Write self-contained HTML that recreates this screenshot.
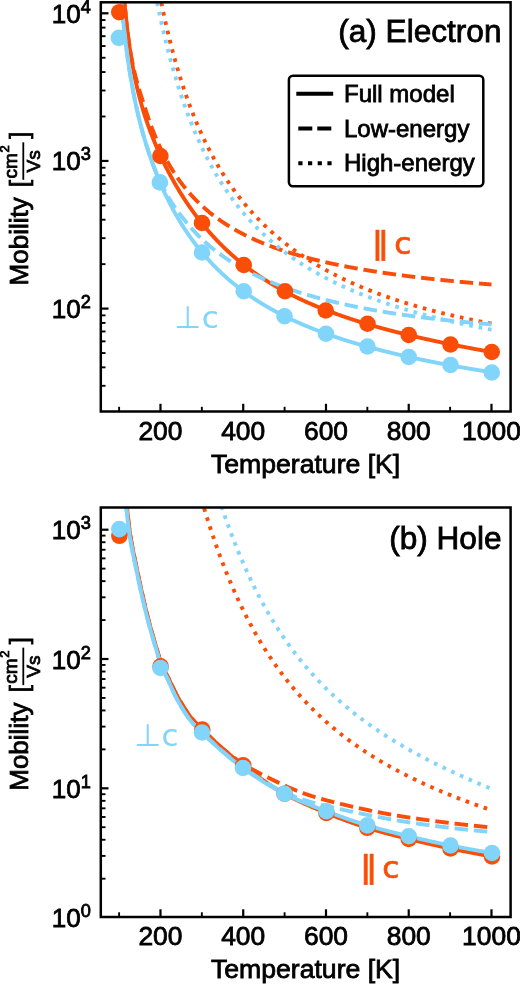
<!DOCTYPE html>
<html><head><meta charset="utf-8"><title>Mobility</title>
<style>
html,body{margin:0;padding:0;background:#fff}
svg{display:block}
text{font-family:"Liberation Sans",sans-serif;fill:#000;stroke:#000;stroke-width:0.8px}
.dj{font-family:"DejaVu Sans",sans-serif}
</style></head><body>
<svg width="520" height="985" viewBox="0 0 520 985">
<rect width="520" height="985" fill="#fff"/>
<defs>
<clipPath id="ca"><rect x="100.80" y="2.30" width="409.80" height="409.20"/></clipPath>
<clipPath id="cb"><rect x="100.80" y="507.50" width="409.80" height="409.50"/></clipPath>
</defs>
<!-- (a) -->
<g clip-path="url(#ca)" fill="none" stroke-width="3.90">
<path stroke="#FA4E08" d="M122.21 -24.45 L122.83 -16.27 L123.45 -8.60 L124.07 -1.40 L124.69 5.36 L125.32 11.73 L125.94 17.73 L126.56 23.40 L127.18 28.77 L127.80 33.85 L128.42 38.67 L129.05 43.26 L129.67 47.62 L130.29 51.78 L130.91 55.76 L131.53 59.55 L132.15 63.19 L132.78 66.68 L133.40 70.03 L134.02 73.25 L134.64 76.36 L135.26 79.35 L135.88 82.24 L136.51 85.03 L137.13 87.73 L137.75 90.35 L138.37 92.88 L138.99 95.35 L139.61 97.75 L140.24 100.08 L140.86 102.35 L141.48 104.56 L142.10 106.72 L142.72 108.83 L143.34 110.89 L143.97 112.91 L144.59 114.88 L145.21 116.81 L145.83 118.71 L146.45 120.56 L147.07 122.39 L147.70 124.18 L148.32 125.94 L148.94 127.67 L149.56 129.37 L150.18 131.04 L150.80 132.69 L151.43 134.32 L152.05 135.92 L152.67 137.49 L153.29 139.05 L153.91 140.58 L154.53 142.09 L155.16 143.59 L155.78 145.06 L156.40 146.52 L157.02 147.96 L157.64 149.38 L158.26 150.79 L158.89 152.18 L159.51 153.55 L160.13 154.91 L160.75 156.25 L161.37 157.58 L161.99 158.90 L162.62 160.20 L163.24 161.49 L163.86 162.77 L164.48 164.03 L165.10 165.28 L165.72 166.52 L166.35 167.75 L166.97 168.96 L167.59 170.17 L168.21 171.36 L168.83 172.54 L169.45 173.71 L170.08 174.87 L170.70 176.03 L171.32 177.17 L171.94 178.30 L172.56 179.42 L173.18 180.53 L173.81 181.63 L174.43 182.72 L175.05 183.81 L175.67 184.88 L176.29 185.95 L176.91 187.00 L177.54 188.05 L178.16 189.09 L178.78 190.12 L179.40 191.14 L180.02 192.16 L180.64 193.16 L181.27 194.16 L181.89 195.15 L182.51 196.13 L183.13 197.11 L183.75 198.07 L184.37 199.03 L185.00 199.98 L185.62 200.93 L186.24 201.86 L186.86 202.79 L187.48 203.72 L188.10 204.63 L188.73 205.54 L189.35 206.44 L189.97 207.33 L190.59 208.22 L191.21 209.10 L191.83 209.98 L192.46 210.85 L193.08 211.71 L193.70 212.56 L194.32 213.41 L194.94 214.25 L195.56 215.09 L196.19 215.92 L196.81 216.74 L197.43 217.56 L198.05 218.37 L198.67 219.17 L199.29 219.97 L199.92 220.77 L200.54 221.55 L201.16 222.34 L201.78 223.11 L202.40 223.88 L203.02 224.65 L203.65 225.41 L204.27 226.16 L204.89 226.91 L205.51 227.65 L206.13 228.39 L206.75 229.12 L207.38 229.85 L208.00 230.57 L208.62 231.29 L209.24 232.00 L209.86 232.71 L210.48 233.41 L211.11 234.11 L211.73 234.80 L212.35 235.49 L212.97 236.17 L213.59 236.85 L214.21 237.52 L214.84 238.19 L215.46 238.85 L216.08 239.51 L216.70 240.16 L217.32 240.81 L217.94 241.46 L218.57 242.10 L219.19 242.74 L219.81 243.37 L220.43 244.00 L221.05 244.62 L221.67 245.24 L222.30 245.85 L222.92 246.47 L223.54 247.07 L224.16 247.67 L224.78 248.27 L225.40 248.87 L226.03 249.46 L226.65 250.04 L227.27 250.63 L227.89 251.21 L228.51 251.78 L229.13 252.35 L229.76 252.92 L230.38 253.48 L231.00 254.04 L231.62 254.60 L232.24 255.15 L232.86 255.70 L233.49 256.25 L234.11 256.79 L234.73 257.33 L235.35 257.86 L235.97 258.39 L236.59 258.92 L237.22 259.44 L237.84 259.96 L238.46 260.48 L239.08 261.00 L239.70 261.51 L240.32 262.01 L240.95 262.52 L241.57 263.02 L242.19 263.52 L242.81 264.01 L243.43 264.50 L244.05 264.99 L244.68 265.48 L245.30 265.96 L245.92 266.44 L246.54 266.92 L247.16 267.39 L247.78 267.86 L248.41 268.33 L249.03 268.79 L249.65 269.26 L250.27 269.71 L250.89 270.17 L251.51 270.62 L252.14 271.08 L252.76 271.52 L253.38 271.97 L254.00 272.41 L254.62 272.85 L255.24 273.29 L255.87 273.72 L256.49 274.15 L257.11 274.58 L257.73 275.01 L258.35 275.43 L258.97 275.86 L259.60 276.28 L260.22 276.69 L260.84 277.11 L261.46 277.52 L262.08 277.93 L262.70 278.33 L263.33 278.74 L263.95 279.14 L264.57 279.54 L265.19 279.94 L265.81 280.33 L266.43 280.73 L267.06 281.12 L267.68 281.51 L268.30 281.89 L268.92 282.28 L269.54 282.66 L270.16 283.04 L270.79 283.41 L271.41 283.79 L272.03 284.16 L272.65 284.53 L273.27 284.90 L273.89 285.27 L274.52 285.64 L275.14 286.00 L275.76 286.36 L276.38 286.72 L277.00 287.07 L277.62 287.43 L278.25 287.78 L278.87 288.13 L279.49 288.48 L280.11 288.83 L280.73 289.18 L281.35 289.52 L281.98 289.86 L282.60 290.20 L283.22 290.54 L283.84 290.87 L284.46 291.21 L285.08 291.54 L285.71 291.87 L286.33 292.20 L286.95 292.53 L287.57 292.85 L288.19 293.18 L288.81 293.50 L289.44 293.82 L290.06 294.14 L290.68 294.45 L291.30 294.77 L291.92 295.08 L292.54 295.40 L293.17 295.71 L293.79 296.01 L294.41 296.32 L295.03 296.63 L295.65 296.93 L296.27 297.23 L296.90 297.54 L297.52 297.84 L298.14 298.13 L298.76 298.43 L299.38 298.73 L300.00 299.02 L300.63 299.31 L301.25 299.60 L301.87 299.89 L302.49 300.18 L303.11 300.46 L303.73 300.75 L304.36 301.03 L304.98 301.32 L305.60 301.60 L306.22 301.88 L306.84 302.15 L307.46 302.43 L308.08 302.71 L308.71 302.98 L309.33 303.25 L309.95 303.52 L310.57 303.79 L311.19 304.06 L311.81 304.33 L312.44 304.60 L313.06 304.86 L313.68 305.13 L314.30 305.39 L314.92 305.65 L315.54 305.91 L316.17 306.17 L316.79 306.43 L317.41 306.68 L318.03 306.94 L318.65 307.19 L319.27 307.45 L319.90 307.70 L320.52 307.95 L321.14 308.20 L321.76 308.45 L322.38 308.69 L323.00 308.94 L323.63 309.19 L324.25 309.43 L324.87 309.67 L325.49 309.91 L326.11 310.15 L326.73 310.39 L327.36 310.63 L327.98 310.87 L328.60 311.11 L329.22 311.34 L329.84 311.58 L330.46 311.81 L331.09 312.04 L331.71 312.28 L332.33 312.51 L332.95 312.74 L333.57 312.96 L334.19 313.19 L334.82 313.42 L335.44 313.64 L336.06 313.87 L336.68 314.09 L337.30 314.31 L337.92 314.54 L338.55 314.76 L339.17 314.98 L339.79 315.20 L340.41 315.42 L341.03 315.63 L341.65 315.85 L342.28 316.06 L342.90 316.28 L343.52 316.49 L344.14 316.71 L344.76 316.92 L345.38 317.13 L346.01 317.34 L346.63 317.55 L347.25 317.76 L347.87 317.97 L348.49 318.17 L349.11 318.38 L349.74 318.58 L350.36 318.79 L350.98 318.99 L351.60 319.20 L352.22 319.40 L352.84 319.60 L353.47 319.80 L354.09 320.00 L354.71 320.20 L355.33 320.40 L355.95 320.60 L356.57 320.79 L357.20 320.99 L357.82 321.18 L358.44 321.38 L359.06 321.57 L359.68 321.77 L360.30 321.96 L360.93 322.15 L361.55 322.34 L362.17 322.53 L362.79 322.72 L363.41 322.91 L364.03 323.10 L364.66 323.29 L365.28 323.47 L365.90 323.66 L366.52 323.84 L367.14 324.03 L367.76 324.21 L368.39 324.40 L369.01 324.58 L369.63 324.76 L370.25 324.94 L370.87 325.12 L371.49 325.30 L372.12 325.48 L372.74 325.66 L373.36 325.84 L373.98 326.02 L374.60 326.20 L375.22 326.37 L375.85 326.55 L376.47 326.72 L377.09 326.90 L377.71 327.07 L378.33 327.25 L378.95 327.42 L379.58 327.59 L380.20 327.76 L380.82 327.94 L381.44 328.11 L382.06 328.28 L382.68 328.45 L383.31 328.62 L383.93 328.78 L384.55 328.95 L385.17 329.12 L385.79 329.29 L386.41 329.45 L387.04 329.62 L387.66 329.78 L388.28 329.95 L388.90 330.11 L389.52 330.28 L390.14 330.44 L390.77 330.60 L391.39 330.76 L392.01 330.93 L392.63 331.09 L393.25 331.25 L393.87 331.41 L394.50 331.57 L395.12 331.73 L395.74 331.89 L396.36 332.04 L396.98 332.20 L397.60 332.36 L398.23 332.51 L398.85 332.67 L399.47 332.83 L400.09 332.98 L400.71 333.14 L401.33 333.29 L401.96 333.45 L402.58 333.60 L403.20 333.75 L403.82 333.90 L404.44 334.06 L405.06 334.21 L405.69 334.36 L406.31 334.51 L406.93 334.66 L407.55 334.81 L408.17 334.96 L408.79 335.11 L409.42 335.26 L410.04 335.41 L410.66 335.55 L411.28 335.70 L411.90 335.85 L412.52 335.99 L413.15 336.14 L413.77 336.29 L414.39 336.43 L415.01 336.58 L415.63 336.72 L416.25 336.87 L416.88 337.01 L417.50 337.15 L418.12 337.30 L418.74 337.44 L419.36 337.58 L419.98 337.72 L420.61 337.86 L421.23 338.01 L421.85 338.15 L422.47 338.29 L423.09 338.43 L423.71 338.57 L424.34 338.71 L424.96 338.84 L425.58 338.98 L426.20 339.12 L426.82 339.26 L427.44 339.40 L428.07 339.53 L428.69 339.67 L429.31 339.81 L429.93 339.94 L430.55 340.08 L431.17 340.21 L431.80 340.35 L432.42 340.48 L433.04 340.62 L433.66 340.75 L434.28 340.89 L434.90 341.02 L435.53 341.15 L436.15 341.29 L436.77 341.42 L437.39 341.55 L438.01 341.68 L438.63 341.81 L439.26 341.94 L439.88 342.08 L440.50 342.21 L441.12 342.34 L441.74 342.47 L442.36 342.60 L442.99 342.73 L443.61 342.85 L444.23 342.98 L444.85 343.11 L445.47 343.24 L446.09 343.37 L446.72 343.50 L447.34 343.62 L447.96 343.75 L448.58 343.88 L449.20 344.00 L449.82 344.13 L450.45 344.25 L451.07 344.38 L451.69 344.51 L452.31 344.63 L452.93 344.76 L453.55 344.88 L454.18 345.00 L454.80 345.13 L455.42 345.25 L456.04 345.38 L456.66 345.50 L457.28 345.62 L457.91 345.74 L458.53 345.87 L459.15 345.99 L459.77 346.11 L460.39 346.23 L461.01 346.35 L461.64 346.47 L462.26 346.60 L462.88 346.72 L463.50 346.84 L464.12 346.96 L464.74 347.08 L465.37 347.20 L465.99 347.32 L466.61 347.43 L467.23 347.55 L467.85 347.67 L468.47 347.79 L469.10 347.91 L469.72 348.03 L470.34 348.14 L470.96 348.26 L471.58 348.38 L472.20 348.50 L472.83 348.61 L473.45 348.73 L474.07 348.85 L474.69 348.96 L475.31 349.08 L475.93 349.19 L476.56 349.31 L477.18 349.42 L477.80 349.54 L478.42 349.65 L479.04 349.77 L479.66 349.88 L480.29 350.00 L480.91 350.11 L481.53 350.23 L482.15 350.34 L482.77 350.45 L483.39 350.57 L484.02 350.68 L484.64 350.79 L485.26 350.90 L485.88 351.02 L486.50 351.13 L487.12 351.24 L487.75 351.35 L488.37 351.46 L488.99 351.58 L489.61 351.69 L490.23 351.80 L490.85 351.91 L491.48 352.02"/>
<path stroke="#FA4E08" d="M122.21 -24.45 L122.83 -16.27 L123.45 -8.60 L124.07 -1.40 L124.69 5.36 L125.32 11.73 L125.94 17.74 L126.56 23.42 L127.18 28.77 L127.80 33.81 L128.42 38.54 L129.05 42.98 L129.67 47.14 L130.29 51.06 L130.91 54.74 L131.53 58.20 L132.15 61.47 L132.78 64.55 L133.40 67.48 L134.02 70.26 L134.64 72.91 L135.26 75.45 L135.88 77.88 L136.51 80.23 L137.13 82.50 L137.75 84.70 L138.37 86.84 L138.99 88.94 L139.61 90.99 L140.24 93.02 L140.86 95.01 L141.48 96.98 L142.10 98.94 L142.72 100.88 L143.34 102.82 L143.97 104.75 L144.59 106.68 L145.21 108.61 L145.83 110.54 L146.45 112.48 L147.07 114.37 L147.70 116.23 L148.32 118.06 L148.94 119.86 L149.56 121.62 L150.18 123.35 L150.80 125.06 L151.43 126.73 L152.05 128.37 L152.67 129.99 L153.29 131.58 L153.91 133.14 L154.53 134.68 L155.16 136.19 L155.78 137.67 L156.40 139.14 L157.02 140.57 L157.64 141.99 L158.26 143.38 L158.89 144.75 L159.51 146.10 L160.13 147.43 L160.75 148.74 L161.37 150.03 L161.99 151.30 L162.62 152.55 L163.24 153.78 L163.86 155.00 L164.48 156.19 L165.10 157.37 L165.72 158.53 L166.35 159.68 L166.97 160.81 L167.59 161.92 L168.21 163.02 L168.83 164.10 L169.45 165.16 L170.08 166.22 L170.70 167.25 L171.32 168.28 L171.94 169.29 L172.56 170.28 L173.18 171.27 L173.81 172.24 L174.43 173.19 L175.05 174.14 L175.67 175.07 L176.29 175.99 L176.91 176.90 L177.54 177.80 L178.16 178.68 L178.78 179.56 L179.40 180.42 L180.02 181.28 L180.64 182.12 L181.27 182.95 L181.89 183.77 L182.51 184.59 L183.13 185.39 L183.75 186.18 L184.37 186.97 L185.00 187.74 L185.62 188.50 L186.24 189.26 L186.86 190.01 L187.48 190.75 L188.10 191.48 L188.73 192.20 L189.35 192.91 L189.97 193.62 L190.59 194.32 L191.21 195.01 L191.83 195.69 L192.46 196.37 L193.08 197.03 L193.70 197.69 L194.32 198.35 L194.94 198.99 L195.56 199.63 L196.19 200.26 L196.81 200.89 L197.43 201.51 L198.05 202.12 L198.67 202.73 L199.29 203.33 L199.92 203.92 L200.54 204.51 L201.16 205.09 L201.78 205.66 L202.40 206.23 L203.02 206.80 L203.65 207.36 L204.27 207.91 L204.89 208.46 L205.51 209.00 L206.13 209.53 L206.75 210.07 L207.38 210.59 L208.00 211.11 L208.62 211.63 L209.24 212.14 L209.86 212.65 L210.48 213.15 L211.11 213.64 L211.73 214.14 L212.35 214.62 L212.97 215.11 L213.59 215.58 L214.21 216.06 L214.84 216.53 L215.46 216.99 L216.08 217.45 L216.70 217.91 L217.32 218.36 L217.94 218.81 L218.57 219.25 L219.19 219.70 L219.81 220.13 L220.43 220.56 L221.05 220.99 L221.67 221.42 L222.30 221.84 L222.92 222.26 L223.54 222.67 L224.16 223.08 L224.78 223.49 L225.40 223.89 L226.03 224.29 L226.65 224.69 L227.27 225.08 L227.89 225.47 L228.51 225.86 L229.13 226.24 L229.76 226.62 L230.38 227.00 L231.00 227.38 L231.62 227.75 L232.24 228.11 L232.86 228.48 L233.49 228.84 L234.11 229.20 L234.73 229.56 L235.35 229.91 L235.97 230.26 L236.59 230.61 L237.22 230.95 L237.84 231.30 L238.46 231.64 L239.08 231.97 L239.70 232.31 L240.32 232.64 L240.95 232.97 L241.57 233.30 L242.19 233.62 L242.81 233.94 L243.43 234.26 L244.05 234.58 L244.68 234.89 L245.30 235.20 L245.92 235.51 L246.54 235.82 L247.16 236.13 L247.78 236.43 L248.41 236.73 L249.03 237.03 L249.65 237.33 L250.27 237.62 L250.89 237.91 L251.51 238.20 L252.14 238.49 L252.76 238.78 L253.38 239.06 L254.00 239.34 L254.62 239.62 L255.24 239.90 L255.87 240.17 L256.49 240.45 L257.11 240.72 L257.73 240.99 L258.35 241.26 L258.97 241.52 L259.60 241.79 L260.22 242.05 L260.84 242.31 L261.46 242.57 L262.08 242.83 L262.70 243.08 L263.33 243.34 L263.95 243.59 L264.57 243.84 L265.19 244.09 L265.81 244.33 L266.43 244.58 L267.06 244.82 L267.68 245.06 L268.30 245.30 L268.92 245.54 L269.54 245.78 L270.16 246.02 L270.79 246.25 L271.41 246.48 L272.03 246.71 L272.65 246.94 L273.27 247.17 L273.89 247.40 L274.52 247.62 L275.14 247.85 L275.76 248.07 L276.38 248.29 L277.00 248.51 L277.62 248.73 L278.25 248.94 L278.87 249.16 L279.49 249.37 L280.11 249.59 L280.73 249.80 L281.35 250.01 L281.98 250.22 L282.60 250.42 L283.22 250.63 L283.84 250.84 L284.46 251.04 L285.08 251.24 L285.71 251.44 L286.33 251.64 L286.95 251.84 L287.57 252.04 L288.19 252.24 L288.81 252.43 L289.44 252.62 L290.06 252.82 L290.68 253.01 L291.30 253.20 L291.92 253.39 L292.54 253.58 L293.17 253.77 L293.79 253.95 L294.41 254.14 L295.03 254.32 L295.65 254.50 L296.27 254.69 L296.90 254.87 L297.52 255.05 L298.14 255.23 L298.76 255.40 L299.38 255.58 L300.00 255.76 L300.63 255.93 L301.25 256.11 L301.87 256.28 L302.49 256.45 L303.11 256.62 L303.73 256.79 L304.36 256.96 L304.98 257.13 L305.60 257.30 L306.22 257.46 L306.84 257.63 L307.46 257.79 L308.08 257.95 L308.71 258.12 L309.33 258.28 L309.95 258.44 L310.57 258.60 L311.19 258.76 L311.81 258.92 L312.44 259.07 L313.06 259.23 L313.68 259.39 L314.30 259.54 L314.92 259.70 L315.54 259.85 L316.17 260.00 L316.79 260.15 L317.41 260.30 L318.03 260.45 L318.65 260.60 L319.27 260.75 L319.90 260.90 L320.52 261.05 L321.14 261.19 L321.76 261.34 L322.38 261.48 L323.00 261.63 L323.63 261.77 L324.25 261.91 L324.87 262.05 L325.49 262.20 L326.11 262.34 L326.73 262.48 L327.36 262.61 L327.98 262.75 L328.60 262.89 L329.22 263.03 L329.84 263.16 L330.46 263.30 L331.09 263.43 L331.71 263.57 L332.33 263.70 L332.95 263.83 L333.57 263.97 L334.19 264.10 L334.82 264.23 L335.44 264.36 L336.06 264.49 L336.68 264.62 L337.30 264.74 L337.92 264.87 L338.55 265.00 L339.17 265.13 L339.79 265.25 L340.41 265.38 L341.03 265.50 L341.65 265.63 L342.28 265.75 L342.90 265.87 L343.52 265.99 L344.14 266.12 L344.76 266.24 L345.38 266.36 L346.01 266.48 L346.63 266.60 L347.25 266.72 L347.87 266.83 L348.49 266.95 L349.11 267.07 L349.74 267.19 L350.36 267.30 L350.98 267.42 L351.60 267.53 L352.22 267.65 L352.84 267.76 L353.47 267.87 L354.09 267.99 L354.71 268.10 L355.33 268.21 L355.95 268.32 L356.57 268.43 L357.20 268.54 L357.82 268.65 L358.44 268.76 L359.06 268.87 L359.68 268.98 L360.30 269.09 L360.93 269.20 L361.55 269.30 L362.17 269.41 L362.79 269.52 L363.41 269.62 L364.03 269.73 L364.66 269.83 L365.28 269.93 L365.90 270.04 L366.52 270.14 L367.14 270.24 L367.76 270.35 L368.39 270.45 L369.01 270.55 L369.63 270.65 L370.25 270.75 L370.87 270.85 L371.49 270.95 L372.12 271.05 L372.74 271.15 L373.36 271.25 L373.98 271.35 L374.60 271.44 L375.22 271.54 L375.85 271.64 L376.47 271.73 L377.09 271.83 L377.71 271.93 L378.33 272.02 L378.95 272.12 L379.58 272.21 L380.20 272.30 L380.82 272.40 L381.44 272.49 L382.06 272.58 L382.68 272.68 L383.31 272.77 L383.93 272.86 L384.55 272.95 L385.17 273.04 L385.79 273.13 L386.41 273.22 L387.04 273.31 L387.66 273.40 L388.28 273.49 L388.90 273.58 L389.52 273.67 L390.14 273.76 L390.77 273.84 L391.39 273.93 L392.01 274.02 L392.63 274.10 L393.25 274.19 L393.87 274.28 L394.50 274.36 L395.12 274.45 L395.74 274.53 L396.36 274.62 L396.98 274.70 L397.60 274.78 L398.23 274.87 L398.85 274.95 L399.47 275.03 L400.09 275.12 L400.71 275.20 L401.33 275.28 L401.96 275.36 L402.58 275.44 L403.20 275.52 L403.82 275.60 L404.44 275.68 L405.06 275.76 L405.69 275.84 L406.31 275.92 L406.93 276.00 L407.55 276.08 L408.17 276.16 L408.79 276.24 L409.42 276.32 L410.04 276.39 L410.66 276.47 L411.28 276.55 L411.90 276.62 L412.52 276.70 L413.15 276.78 L413.77 276.85 L414.39 276.93 L415.01 277.00 L415.63 277.08 L416.25 277.15 L416.88 277.23 L417.50 277.30 L418.12 277.38 L418.74 277.45 L419.36 277.52 L419.98 277.60 L420.61 277.67 L421.23 277.74 L421.85 277.81 L422.47 277.88 L423.09 277.96 L423.71 278.03 L424.34 278.10 L424.96 278.17 L425.58 278.24 L426.20 278.31 L426.82 278.38 L427.44 278.45 L428.07 278.52 L428.69 278.59 L429.31 278.66 L429.93 278.73 L430.55 278.80 L431.17 278.86 L431.80 278.93 L432.42 279.00 L433.04 279.07 L433.66 279.14 L434.28 279.20 L434.90 279.27 L435.53 279.34 L436.15 279.40 L436.77 279.47 L437.39 279.54 L438.01 279.60 L438.63 279.67 L439.26 279.73 L439.88 279.80 L440.50 279.86 L441.12 279.93 L441.74 279.99 L442.36 280.05 L442.99 280.12 L443.61 280.18 L444.23 280.25 L444.85 280.31 L445.47 280.37 L446.09 280.44 L446.72 280.50 L447.34 280.56 L447.96 280.62 L448.58 280.68 L449.20 280.75 L449.82 280.81 L450.45 280.87 L451.07 280.93 L451.69 280.99 L452.31 281.05 L452.93 281.11 L453.55 281.17 L454.18 281.23 L454.80 281.29 L455.42 281.35 L456.04 281.41 L456.66 281.47 L457.28 281.53 L457.91 281.59 L458.53 281.65 L459.15 281.71 L459.77 281.76 L460.39 281.82 L461.01 281.88 L461.64 281.94 L462.26 282.00 L462.88 282.05 L463.50 282.11 L464.12 282.17 L464.74 282.22 L465.37 282.28 L465.99 282.34 L466.61 282.39 L467.23 282.45 L467.85 282.51 L468.47 282.56 L469.10 282.62 L469.72 282.67 L470.34 282.73 L470.96 282.78 L471.58 282.84 L472.20 282.89 L472.83 282.95 L473.45 283.00 L474.07 283.05 L474.69 283.11 L475.31 283.16 L475.93 283.22 L476.56 283.27 L477.18 283.32 L477.80 283.37 L478.42 283.43 L479.04 283.48 L479.66 283.53 L480.29 283.59 L480.91 283.64 L481.53 283.69 L482.15 283.74 L482.77 283.79 L483.39 283.84 L484.02 283.90 L484.64 283.95 L485.26 284.00 L485.88 284.05 L486.50 284.10 L487.12 284.15 L487.75 284.20 L488.37 284.25 L488.99 284.30 L489.61 284.35 L490.23 284.40 L490.85 284.45 L491.48 284.50" stroke-dasharray="13.5 5.9" stroke-dashoffset="1.33"/>
<path stroke="#FA4E08" d="M156.00 -25.28 L156.70 -21.35 L157.41 -17.48 L158.11 -13.69 L158.82 -9.97 L159.52 -6.32 L160.23 -2.73 L160.93 0.79 L161.64 4.25 L162.34 7.65 L163.05 10.98 L163.75 14.27 L164.45 17.49 L165.16 20.66 L165.86 23.78 L166.57 26.84 L167.27 29.86 L167.98 32.82 L168.68 35.74 L169.39 38.61 L170.09 41.44 L170.80 44.22 L171.50 46.95 L172.21 49.65 L172.91 52.30 L173.62 54.91 L174.32 57.49 L175.03 60.02 L175.73 62.52 L176.44 64.98 L177.14 67.40 L177.85 69.79 L178.55 72.15 L179.26 74.47 L179.96 76.75 L180.67 79.01 L181.37 81.23 L182.07 83.43 L182.78 85.59 L183.48 87.72 L184.19 89.83 L184.89 91.91 L185.60 93.95 L186.30 95.98 L187.01 97.97 L187.71 99.94 L188.42 101.88 L189.12 103.80 L189.83 105.70 L190.53 107.57 L191.24 109.41 L191.94 111.24 L192.65 113.04 L193.35 114.81 L194.06 116.57 L194.76 118.31 L195.47 120.02 L196.17 121.71 L196.88 123.39 L197.58 125.04 L198.28 126.67 L198.99 128.29 L199.69 129.89 L200.40 131.46 L201.10 133.02 L201.81 134.56 L202.51 136.09 L203.22 137.59 L203.92 139.08 L204.63 140.56 L205.33 142.02 L206.04 143.46 L206.74 144.88 L207.45 146.29 L208.15 147.69 L208.86 149.07 L209.56 150.43 L210.27 151.78 L210.97 153.12 L211.68 154.44 L212.38 155.75 L213.09 157.04 L213.79 158.32 L214.49 159.59 L215.20 160.84 L215.90 162.09 L216.61 163.32 L217.31 164.53 L218.02 165.74 L218.72 166.93 L219.43 168.11 L220.13 169.28 L220.84 170.44 L221.54 171.59 L222.25 172.72 L222.95 173.85 L223.66 174.96 L224.36 176.07 L225.07 177.16 L225.77 178.24 L226.48 179.31 L227.18 180.38 L227.89 181.43 L228.59 182.47 L229.30 183.50 L230.00 184.53 L230.70 185.54 L231.41 186.55 L232.11 187.54 L232.82 188.53 L233.52 189.51 L234.23 190.48 L234.93 191.44 L235.64 192.39 L236.34 193.34 L237.05 194.27 L237.75 195.20 L238.46 196.12 L239.16 197.03 L239.87 197.94 L240.57 198.83 L241.28 199.72 L241.98 200.60 L242.69 201.47 L243.39 202.34 L244.10 203.20 L244.80 204.05 L245.51 204.90 L246.21 205.73 L246.91 206.56 L247.62 207.39 L248.32 208.21 L249.03 209.02 L249.73 209.82 L250.44 210.62 L251.14 211.41 L251.85 212.19 L252.55 212.97 L253.26 213.75 L253.96 214.51 L254.67 215.27 L255.37 216.03 L256.08 216.77 L256.78 217.52 L257.49 218.25 L258.19 218.99 L258.90 219.71 L259.60 220.43 L260.31 221.15 L261.01 221.86 L261.72 222.56 L262.42 223.26 L263.12 223.95 L263.83 224.64 L264.53 225.32 L265.24 226.00 L265.94 226.67 L266.65 227.34 L267.35 228.00 L268.06 228.66 L268.76 229.32 L269.47 229.96 L270.17 230.61 L270.88 231.25 L271.58 231.88 L272.29 232.51 L272.99 233.14 L273.70 233.76 L274.40 234.38 L275.11 234.99 L275.81 235.60 L276.52 236.20 L277.22 236.80 L277.93 237.40 L278.63 237.99 L279.33 238.57 L280.04 239.16 L280.74 239.74 L281.45 240.31 L282.15 240.88 L282.86 241.45 L283.56 242.01 L284.27 242.57 L284.97 243.13 L285.68 243.68 L286.38 244.23 L287.09 244.78 L287.79 245.32 L288.50 245.85 L289.20 246.39 L289.91 246.92 L290.61 247.45 L291.32 247.97 L292.02 248.49 L292.73 249.01 L293.43 249.52 L294.14 250.03 L294.84 250.54 L295.54 251.04 L296.25 251.54 L296.95 252.04 L297.66 252.53 L298.36 253.02 L299.07 253.51 L299.77 254.00 L300.48 254.48 L301.18 254.96 L301.89 255.43 L302.59 255.91 L303.30 256.38 L304.00 256.84 L304.71 257.31 L305.41 257.77 L306.12 258.23 L306.82 258.68 L307.53 259.13 L308.23 259.58 L308.94 260.03 L309.64 260.48 L310.35 260.92 L311.05 261.36 L311.75 261.79 L312.46 262.23 L313.16 262.66 L313.87 263.09 L314.57 263.51 L315.28 263.94 L315.98 264.36 L316.69 264.78 L317.39 265.19 L318.10 265.61 L318.80 266.02 L319.51 266.43 L320.21 266.83 L320.92 267.24 L321.62 267.64 L322.33 268.04 L323.03 268.44 L323.74 268.83 L324.44 269.22 L325.15 269.61 L325.85 270.00 L326.56 270.39 L327.26 270.77 L327.96 271.15 L328.67 271.53 L329.37 271.91 L330.08 272.28 L330.78 272.66 L331.49 273.03 L332.19 273.40 L332.90 273.76 L333.60 274.13 L334.31 274.49 L335.01 274.85 L335.72 275.21 L336.42 275.57 L337.13 275.92 L337.83 276.28 L338.54 276.63 L339.24 276.98 L339.95 277.32 L340.65 277.67 L341.36 278.01 L342.06 278.35 L342.77 278.69 L343.47 279.03 L344.18 279.37 L344.88 279.70 L345.58 280.03 L346.29 280.36 L346.99 280.69 L347.70 281.02 L348.40 281.35 L349.11 281.67 L349.81 281.99 L350.52 282.31 L351.22 282.63 L351.93 282.95 L352.63 283.26 L353.34 283.58 L354.04 283.89 L354.75 284.20 L355.45 284.51 L356.16 284.81 L356.86 285.12 L357.57 285.42 L358.27 285.73 L358.98 286.03 L359.68 286.33 L360.39 286.62 L361.09 286.92 L361.79 287.22 L362.50 287.51 L363.20 287.80 L363.91 288.09 L364.61 288.38 L365.32 288.67 L366.02 288.95 L366.73 289.24 L367.43 289.52 L368.14 289.80 L368.84 290.08 L369.55 290.36 L370.25 290.64 L370.96 290.92 L371.66 291.19 L372.37 291.46 L373.07 291.74 L373.78 292.01 L374.48 292.28 L375.19 292.54 L375.89 292.81 L376.60 293.08 L377.30 293.34 L378.00 293.60 L378.71 293.87 L379.41 294.13 L380.12 294.38 L380.82 294.64 L381.53 294.90 L382.23 295.15 L382.94 295.41 L383.64 295.66 L384.35 295.91 L385.05 296.16 L385.76 296.41 L386.46 296.66 L387.17 296.91 L387.87 297.15 L388.58 297.40 L389.28 297.64 L389.99 297.88 L390.69 298.13 L391.40 298.37 L392.10 298.60 L392.81 298.84 L393.51 299.08 L394.21 299.31 L394.92 299.55 L395.62 299.78 L396.33 300.01 L397.03 300.25 L397.74 300.48 L398.44 300.70 L399.15 300.93 L399.85 301.16 L400.56 301.39 L401.26 301.61 L401.97 301.83 L402.67 302.06 L403.38 302.28 L404.08 302.50 L404.79 302.72 L405.49 302.94 L406.20 303.16 L406.90 303.37 L407.61 303.59 L408.31 303.80 L409.02 304.02 L409.72 304.23 L410.42 304.44 L411.13 304.65 L411.83 304.86 L412.54 305.07 L413.24 305.28 L413.95 305.49 L414.65 305.69 L415.36 305.90 L416.06 306.10 L416.77 306.31 L417.47 306.51 L418.18 306.71 L418.88 306.91 L419.59 307.11 L420.29 307.31 L421.00 307.51 L421.70 307.71 L422.41 307.90 L423.11 308.10 L423.82 308.29 L424.52 308.49 L425.23 308.68 L425.93 308.87 L426.63 309.07 L427.34 309.26 L428.04 309.45 L428.75 309.63 L429.45 309.82 L430.16 310.01 L430.86 310.20 L431.57 310.38 L432.27 310.57 L432.98 310.75 L433.68 310.93 L434.39 311.12 L435.09 311.30 L435.80 311.48 L436.50 311.66 L437.21 311.84 L437.91 312.02 L438.62 312.20 L439.32 312.37 L440.03 312.55 L440.73 312.72 L441.44 312.90 L442.14 313.07 L442.84 313.25 L443.55 313.42 L444.25 313.59 L444.96 313.76 L445.66 313.93 L446.37 314.10 L447.07 314.27 L447.78 314.44 L448.48 314.61 L449.19 314.77 L449.89 314.94 L450.60 315.11 L451.30 315.27 L452.01 315.44 L452.71 315.60 L453.42 315.76 L454.12 315.92 L454.83 316.09 L455.53 316.25 L456.24 316.41 L456.94 316.57 L457.65 316.73 L458.35 316.88 L459.05 317.04 L459.76 317.20 L460.46 317.35 L461.17 317.51 L461.87 317.66 L462.58 317.82 L463.28 317.97 L463.99 318.13 L464.69 318.28 L465.40 318.43 L466.10 318.58 L466.81 318.73 L467.51 318.88 L468.22 319.03 L468.92 319.18 L469.63 319.33 L470.33 319.48 L471.04 319.62 L471.74 319.77 L472.45 319.92 L473.15 320.06 L473.86 320.21 L474.56 320.35 L475.26 320.49 L475.97 320.64 L476.67 320.78 L477.38 320.92 L478.08 321.06 L478.79 321.20 L479.49 321.34 L480.20 321.48 L480.90 321.62 L481.61 321.76 L482.31 321.90 L483.02 322.03 L483.72 322.17 L484.43 322.31 L485.13 322.44 L485.84 322.58 L486.54 322.71 L487.25 322.85 L487.95 322.98 L488.66 323.11 L489.36 323.25 L490.07 323.38 L490.77 323.51 L491.48 323.64" stroke-dasharray="3.65 5.9" stroke-dashoffset="0.23"/>
<path stroke="#81D4FA" d="M119.10 -25.09 L119.72 -16.94 L120.34 -9.23 L120.96 -1.92 L121.59 5.01 L122.21 11.59 L122.83 17.85 L123.45 23.82 L124.07 29.52 L124.69 34.96 L125.32 40.17 L125.94 45.16 L126.56 49.95 L127.18 54.55 L127.80 58.98 L128.42 63.24 L129.05 67.34 L129.67 71.31 L130.29 75.14 L130.91 78.84 L131.53 82.42 L132.15 85.89 L132.78 89.26 L133.40 92.53 L134.02 95.70 L134.64 98.79 L135.26 101.79 L135.88 104.71 L136.51 107.56 L137.13 110.34 L137.75 113.05 L138.37 115.69 L138.99 118.28 L139.61 120.80 L140.24 123.27 L140.86 125.69 L141.48 128.05 L142.10 130.37 L142.72 132.64 L143.34 134.86 L143.97 137.05 L144.59 139.19 L145.21 141.29 L145.83 143.35 L146.45 145.38 L147.07 147.37 L147.70 149.33 L148.32 151.25 L148.94 153.15 L149.56 155.01 L150.18 156.84 L150.80 158.64 L151.43 160.42 L152.05 162.17 L152.67 163.89 L153.29 165.59 L153.91 167.26 L154.53 168.91 L155.16 170.54 L155.78 172.14 L156.40 173.72 L157.02 175.28 L157.64 176.82 L158.26 178.34 L158.89 179.84 L159.51 181.32 L160.13 182.78 L160.75 184.22 L161.37 185.65 L161.99 187.05 L162.62 188.44 L163.24 189.82 L163.86 191.17 L164.48 192.51 L165.10 193.84 L165.72 195.15 L166.35 196.44 L166.97 197.72 L167.59 198.99 L168.21 200.24 L168.83 201.47 L169.45 202.70 L170.08 203.91 L170.70 205.10 L171.32 206.29 L171.94 207.46 L172.56 208.62 L173.18 209.76 L173.81 210.90 L174.43 212.02 L175.05 213.13 L175.67 214.23 L176.29 215.32 L176.91 216.40 L177.54 217.47 L178.16 218.52 L178.78 219.57 L179.40 220.60 L180.02 221.63 L180.64 222.64 L181.27 223.65 L181.89 224.65 L182.51 225.63 L183.13 226.61 L183.75 227.58 L184.37 228.54 L185.00 229.48 L185.62 230.43 L186.24 231.36 L186.86 232.28 L187.48 233.20 L188.10 234.10 L188.73 235.00 L189.35 235.89 L189.97 236.77 L190.59 237.65 L191.21 238.51 L191.83 239.37 L192.46 240.23 L193.08 241.07 L193.70 241.91 L194.32 242.73 L194.94 243.56 L195.56 244.37 L196.19 245.18 L196.81 245.98 L197.43 246.78 L198.05 247.56 L198.67 248.34 L199.29 249.12 L199.92 249.89 L200.54 250.65 L201.16 251.40 L201.78 252.15 L202.40 252.89 L203.02 253.63 L203.65 254.36 L204.27 255.09 L204.89 255.80 L205.51 256.52 L206.13 257.23 L206.75 257.93 L207.38 258.62 L208.00 259.31 L208.62 260.00 L209.24 260.68 L209.86 261.35 L210.48 262.02 L211.11 262.69 L211.73 263.34 L212.35 264.00 L212.97 264.65 L213.59 265.29 L214.21 265.93 L214.84 266.56 L215.46 267.19 L216.08 267.82 L216.70 268.44 L217.32 269.05 L217.94 269.66 L218.57 270.27 L219.19 270.87 L219.81 271.47 L220.43 272.06 L221.05 272.65 L221.67 273.23 L222.30 273.81 L222.92 274.38 L223.54 274.96 L224.16 275.52 L224.78 276.09 L225.40 276.64 L226.03 277.20 L226.65 277.75 L227.27 278.30 L227.89 278.84 L228.51 279.38 L229.13 279.92 L229.76 280.45 L230.38 280.98 L231.00 281.50 L231.62 282.02 L232.24 282.54 L232.86 283.05 L233.49 283.56 L234.11 284.07 L234.73 284.57 L235.35 285.07 L235.97 285.57 L236.59 286.06 L237.22 286.55 L237.84 287.04 L238.46 287.52 L239.08 288.00 L239.70 288.48 L240.32 288.95 L240.95 289.42 L241.57 289.89 L242.19 290.35 L242.81 290.81 L243.43 291.27 L244.05 291.73 L244.68 292.18 L245.30 292.63 L245.92 293.08 L246.54 293.52 L247.16 293.96 L247.78 294.40 L248.41 294.83 L249.03 295.27 L249.65 295.70 L250.27 296.12 L250.89 296.55 L251.51 296.97 L252.14 297.39 L252.76 297.80 L253.38 298.22 L254.00 298.63 L254.62 299.04 L255.24 299.44 L255.87 299.85 L256.49 300.25 L257.11 300.65 L257.73 301.05 L258.35 301.44 L258.97 301.83 L259.60 302.22 L260.22 302.61 L260.84 302.99 L261.46 303.38 L262.08 303.76 L262.70 304.13 L263.33 304.51 L263.95 304.88 L264.57 305.25 L265.19 305.62 L265.81 305.99 L266.43 306.35 L267.06 306.72 L267.68 307.08 L268.30 307.44 L268.92 307.79 L269.54 308.15 L270.16 308.50 L270.79 308.85 L271.41 309.20 L272.03 309.55 L272.65 309.89 L273.27 310.23 L273.89 310.57 L274.52 310.91 L275.14 311.25 L275.76 311.58 L276.38 311.92 L277.00 312.25 L277.62 312.58 L278.25 312.91 L278.87 313.23 L279.49 313.56 L280.11 313.88 L280.73 314.20 L281.35 314.52 L281.98 314.84 L282.60 315.15 L283.22 315.46 L283.84 315.78 L284.46 316.09 L285.08 316.40 L285.71 316.70 L286.33 317.01 L286.95 317.31 L287.57 317.62 L288.19 317.92 L288.81 318.22 L289.44 318.51 L290.06 318.81 L290.68 319.10 L291.30 319.40 L291.92 319.69 L292.54 319.98 L293.17 320.27 L293.79 320.55 L294.41 320.84 L295.03 321.12 L295.65 321.41 L296.27 321.69 L296.90 321.97 L297.52 322.25 L298.14 322.52 L298.76 322.80 L299.38 323.07 L300.00 323.35 L300.63 323.62 L301.25 323.89 L301.87 324.16 L302.49 324.43 L303.11 324.69 L303.73 324.96 L304.36 325.22 L304.98 325.48 L305.60 325.74 L306.22 326.00 L306.84 326.26 L307.46 326.52 L308.08 326.78 L308.71 327.03 L309.33 327.29 L309.95 327.54 L310.57 327.79 L311.19 328.04 L311.81 328.29 L312.44 328.54 L313.06 328.78 L313.68 329.03 L314.30 329.27 L314.92 329.52 L315.54 329.76 L316.17 330.00 L316.79 330.24 L317.41 330.48 L318.03 330.72 L318.65 330.95 L319.27 331.19 L319.90 331.43 L320.52 331.66 L321.14 331.89 L321.76 332.12 L322.38 332.35 L323.00 332.58 L323.63 332.81 L324.25 333.04 L324.87 333.26 L325.49 333.49 L326.11 333.71 L326.73 333.94 L327.36 334.16 L327.98 334.38 L328.60 334.60 L329.22 334.82 L329.84 335.04 L330.46 335.26 L331.09 335.47 L331.71 335.69 L332.33 335.91 L332.95 336.12 L333.57 336.33 L334.19 336.54 L334.82 336.76 L335.44 336.97 L336.06 337.18 L336.68 337.38 L337.30 337.59 L337.92 337.80 L338.55 338.01 L339.17 338.21 L339.79 338.41 L340.41 338.62 L341.03 338.82 L341.65 339.02 L342.28 339.22 L342.90 339.42 L343.52 339.62 L344.14 339.82 L344.76 340.02 L345.38 340.22 L346.01 340.41 L346.63 340.61 L347.25 340.80 L347.87 341.00 L348.49 341.19 L349.11 341.38 L349.74 341.57 L350.36 341.76 L350.98 341.95 L351.60 342.14 L352.22 342.33 L352.84 342.52 L353.47 342.71 L354.09 342.89 L354.71 343.08 L355.33 343.26 L355.95 343.45 L356.57 343.63 L357.20 343.81 L357.82 344.00 L358.44 344.18 L359.06 344.36 L359.68 344.54 L360.30 344.72 L360.93 344.90 L361.55 345.07 L362.17 345.25 L362.79 345.43 L363.41 345.60 L364.03 345.78 L364.66 345.95 L365.28 346.13 L365.90 346.30 L366.52 346.48 L367.14 346.65 L367.76 346.82 L368.39 346.99 L369.01 347.16 L369.63 347.33 L370.25 347.50 L370.87 347.67 L371.49 347.84 L372.12 348.00 L372.74 348.17 L373.36 348.34 L373.98 348.50 L374.60 348.67 L375.22 348.83 L375.85 348.99 L376.47 349.16 L377.09 349.32 L377.71 349.48 L378.33 349.64 L378.95 349.80 L379.58 349.96 L380.20 350.12 L380.82 350.28 L381.44 350.44 L382.06 350.60 L382.68 350.76 L383.31 350.92 L383.93 351.07 L384.55 351.23 L385.17 351.38 L385.79 351.54 L386.41 351.69 L387.04 351.85 L387.66 352.00 L388.28 352.15 L388.90 352.31 L389.52 352.46 L390.14 352.61 L390.77 352.76 L391.39 352.91 L392.01 353.06 L392.63 353.21 L393.25 353.36 L393.87 353.51 L394.50 353.66 L395.12 353.80 L395.74 353.95 L396.36 354.10 L396.98 354.24 L397.60 354.39 L398.23 354.53 L398.85 354.68 L399.47 354.82 L400.09 354.97 L400.71 355.11 L401.33 355.25 L401.96 355.39 L402.58 355.54 L403.20 355.68 L403.82 355.82 L404.44 355.96 L405.06 356.10 L405.69 356.24 L406.31 356.38 L406.93 356.52 L407.55 356.66 L408.17 356.79 L408.79 356.93 L409.42 357.07 L410.04 357.21 L410.66 357.34 L411.28 357.48 L411.90 357.61 L412.52 357.75 L413.15 357.88 L413.77 358.02 L414.39 358.15 L415.01 358.29 L415.63 358.42 L416.25 358.55 L416.88 358.68 L417.50 358.82 L418.12 358.95 L418.74 359.08 L419.36 359.21 L419.98 359.34 L420.61 359.47 L421.23 359.60 L421.85 359.73 L422.47 359.86 L423.09 359.99 L423.71 360.12 L424.34 360.24 L424.96 360.37 L425.58 360.50 L426.20 360.63 L426.82 360.75 L427.44 360.88 L428.07 361.00 L428.69 361.13 L429.31 361.25 L429.93 361.38 L430.55 361.50 L431.17 361.63 L431.80 361.75 L432.42 361.87 L433.04 362.00 L433.66 362.12 L434.28 362.24 L434.90 362.36 L435.53 362.49 L436.15 362.61 L436.77 362.73 L437.39 362.85 L438.01 362.97 L438.63 363.09 L439.26 363.21 L439.88 363.33 L440.50 363.45 L441.12 363.57 L441.74 363.68 L442.36 363.80 L442.99 363.92 L443.61 364.04 L444.23 364.16 L444.85 364.27 L445.47 364.39 L446.09 364.51 L446.72 364.62 L447.34 364.74 L447.96 364.85 L448.58 364.97 L449.20 365.08 L449.82 365.20 L450.45 365.31 L451.07 365.43 L451.69 365.54 L452.31 365.65 L452.93 365.77 L453.55 365.88 L454.18 365.99 L454.80 366.10 L455.42 366.21 L456.04 366.33 L456.66 366.44 L457.28 366.55 L457.91 366.66 L458.53 366.77 L459.15 366.88 L459.77 366.99 L460.39 367.10 L461.01 367.21 L461.64 367.32 L462.26 367.43 L462.88 367.54 L463.50 367.65 L464.12 367.75 L464.74 367.86 L465.37 367.97 L465.99 368.08 L466.61 368.18 L467.23 368.29 L467.85 368.40 L468.47 368.50 L469.10 368.61 L469.72 368.72 L470.34 368.82 L470.96 368.93 L471.58 369.03 L472.20 369.14 L472.83 369.24 L473.45 369.35 L474.07 369.45 L474.69 369.55 L475.31 369.66 L475.93 369.76 L476.56 369.86 L477.18 369.97 L477.80 370.07 L478.42 370.17 L479.04 370.28 L479.66 370.38 L480.29 370.48 L480.91 370.58 L481.53 370.68 L482.15 370.78 L482.77 370.88 L483.39 370.99 L484.02 371.09 L484.64 371.19 L485.26 371.29 L485.88 371.39 L486.50 371.49 L487.12 371.59 L487.75 371.68 L488.37 371.78 L488.99 371.88 L489.61 371.98 L490.23 372.08 L490.85 372.18 L491.48 372.28"/>
<path stroke="#81D4FA" d="M119.10 -25.09 L119.72 -16.94 L120.34 -9.23 L120.96 -1.92 L121.59 5.01 L122.21 11.59 L122.83 17.85 L123.45 23.82 L124.07 29.52 L124.69 34.96 L125.32 40.17 L125.94 45.16 L126.56 49.95 L127.18 54.55 L127.80 58.98 L128.42 63.24 L129.05 67.34 L129.67 71.31 L130.29 75.14 L130.91 78.84 L131.53 82.42 L132.15 85.89 L132.78 89.26 L133.40 92.53 L134.02 95.70 L134.64 98.79 L135.26 101.79 L135.88 104.71 L136.51 107.56 L137.13 110.34 L137.75 113.04 L138.37 115.68 L138.99 118.26 L139.61 120.78 L140.24 123.24 L140.86 125.65 L141.48 128.01 L142.10 130.32 L142.72 132.58 L143.34 134.79 L143.97 136.96 L144.59 139.09 L145.21 141.18 L145.83 143.22 L146.45 145.23 L147.07 147.21 L147.70 149.14 L148.32 151.04 L148.94 152.91 L149.56 154.74 L150.18 156.54 L150.80 158.31 L151.43 160.05 L152.05 161.75 L152.67 163.43 L153.29 165.07 L153.91 166.69 L154.53 168.28 L155.16 169.84 L155.78 171.38 L156.40 172.88 L157.02 174.36 L157.64 175.82 L158.26 177.25 L158.89 178.65 L159.51 180.03 L160.13 181.38 L160.75 182.71 L161.37 184.01 L161.99 185.29 L162.62 186.55 L163.24 187.79 L163.86 189.00 L164.48 190.19 L165.10 191.36 L165.72 192.51 L166.35 193.64 L166.97 194.75 L167.59 195.84 L168.21 196.91 L168.83 197.96 L169.45 199.00 L170.08 200.01 L170.70 201.01 L171.32 201.99 L171.94 202.96 L172.56 203.91 L173.18 204.84 L173.81 205.76 L174.43 206.67 L175.05 207.57 L175.67 208.45 L176.29 209.32 L176.91 210.18 L177.54 211.02 L178.16 211.86 L178.78 212.69 L179.40 213.51 L180.02 214.32 L180.64 215.13 L181.27 215.93 L181.89 216.72 L182.51 217.51 L183.13 218.30 L183.75 219.08 L184.37 219.86 L185.00 220.63 L185.62 221.41 L186.24 222.18 L186.86 222.94 L187.48 223.69 L188.10 224.43 L188.73 225.16 L189.35 225.89 L189.97 226.61 L190.59 227.32 L191.21 228.02 L191.83 228.72 L192.46 229.41 L193.08 230.09 L193.70 230.76 L194.32 231.43 L194.94 232.09 L195.56 232.74 L196.19 233.39 L196.81 234.03 L197.43 234.67 L198.05 235.29 L198.67 235.92 L199.29 236.53 L199.92 237.14 L200.54 237.75 L201.16 238.34 L201.78 238.94 L202.40 239.52 L203.02 240.10 L203.65 240.68 L204.27 241.25 L204.89 241.81 L205.51 242.37 L206.13 242.93 L206.75 243.48 L207.38 244.02 L208.00 244.56 L208.62 245.10 L209.24 245.63 L209.86 246.15 L210.48 246.67 L211.11 247.19 L211.73 247.70 L212.35 248.21 L212.97 248.71 L213.59 249.21 L214.21 249.70 L214.84 250.19 L215.46 250.68 L216.08 251.16 L216.70 251.64 L217.32 252.11 L217.94 252.58 L218.57 253.04 L219.19 253.51 L219.81 253.96 L220.43 254.42 L221.05 254.87 L221.67 255.32 L222.30 255.76 L222.92 256.20 L223.54 256.63 L224.16 257.07 L224.78 257.50 L225.40 257.92 L226.03 258.35 L226.65 258.76 L227.27 259.18 L227.89 259.59 L228.51 260.00 L229.13 260.41 L229.76 260.81 L230.38 261.21 L231.00 261.61 L231.62 262.00 L232.24 262.40 L232.86 262.78 L233.49 263.17 L234.11 263.55 L234.73 263.93 L235.35 264.31 L235.97 264.68 L236.59 265.05 L237.22 265.42 L237.84 265.79 L238.46 266.15 L239.08 266.51 L239.70 266.87 L240.32 267.23 L240.95 267.58 L241.57 267.93 L242.19 268.28 L242.81 268.63 L243.43 268.97 L244.05 269.31 L244.68 269.65 L245.30 269.98 L245.92 270.32 L246.54 270.65 L247.16 270.98 L247.78 271.31 L248.41 271.63 L249.03 271.95 L249.65 272.27 L250.27 272.59 L250.89 272.91 L251.51 273.22 L252.14 273.53 L252.76 273.84 L253.38 274.15 L254.00 274.46 L254.62 274.76 L255.24 275.06 L255.87 275.36 L256.49 275.66 L257.11 275.96 L257.73 276.25 L258.35 276.54 L258.97 276.83 L259.60 277.12 L260.22 277.41 L260.84 277.69 L261.46 277.98 L262.08 278.26 L262.70 278.54 L263.33 278.82 L263.95 279.09 L264.57 279.37 L265.19 279.64 L265.81 279.91 L266.43 280.18 L267.06 280.45 L267.68 280.71 L268.30 280.98 L268.92 281.24 L269.54 281.50 L270.16 281.76 L270.79 282.02 L271.41 282.27 L272.03 282.53 L272.65 282.78 L273.27 283.03 L273.89 283.28 L274.52 283.53 L275.14 283.78 L275.76 284.02 L276.38 284.27 L277.00 284.51 L277.62 284.75 L278.25 284.99 L278.87 285.23 L279.49 285.47 L280.11 285.70 L280.73 285.94 L281.35 286.17 L281.98 286.40 L282.60 286.63 L283.22 286.86 L283.84 287.09 L284.46 287.31 L285.08 287.54 L285.71 287.76 L286.33 287.99 L286.95 288.21 L287.57 288.43 L288.19 288.65 L288.81 288.86 L289.44 289.08 L290.06 289.30 L290.68 289.51 L291.30 289.72 L291.92 289.93 L292.54 290.14 L293.17 290.35 L293.79 290.56 L294.41 290.77 L295.03 290.97 L295.65 291.18 L296.27 291.38 L296.90 291.58 L297.52 291.79 L298.14 291.99 L298.76 292.19 L299.38 292.38 L300.00 292.58 L300.63 292.78 L301.25 292.97 L301.87 293.16 L302.49 293.36 L303.11 293.55 L303.73 293.74 L304.36 293.93 L304.98 294.12 L305.60 294.31 L306.22 294.49 L306.84 294.68 L307.46 294.86 L308.08 295.05 L308.71 295.23 L309.33 295.41 L309.95 295.59 L310.57 295.77 L311.19 295.95 L311.81 296.13 L312.44 296.31 L313.06 296.48 L313.68 296.66 L314.30 296.83 L314.92 297.01 L315.54 297.18 L316.17 297.35 L316.79 297.52 L317.41 297.69 L318.03 297.86 L318.65 298.03 L319.27 298.20 L319.90 298.36 L320.52 298.53 L321.14 298.69 L321.76 298.86 L322.38 299.02 L323.00 299.18 L323.63 299.35 L324.25 299.51 L324.87 299.67 L325.49 299.83 L326.11 299.98 L326.73 300.14 L327.36 300.30 L327.98 300.45 L328.60 300.61 L329.22 300.76 L329.84 300.92 L330.46 301.07 L331.09 301.22 L331.71 301.38 L332.33 301.53 L332.95 301.68 L333.57 301.83 L334.19 301.97 L334.82 302.12 L335.44 302.27 L336.06 302.42 L336.68 302.56 L337.30 302.71 L337.92 302.85 L338.55 302.99 L339.17 303.14 L339.79 303.28 L340.41 303.42 L341.03 303.56 L341.65 303.70 L342.28 303.84 L342.90 303.98 L343.52 304.12 L344.14 304.26 L344.76 304.39 L345.38 304.53 L346.01 304.66 L346.63 304.80 L347.25 304.93 L347.87 305.07 L348.49 305.20 L349.11 305.33 L349.74 305.46 L350.36 305.60 L350.98 305.73 L351.60 305.86 L352.22 305.99 L352.84 306.11 L353.47 306.24 L354.09 306.37 L354.71 306.50 L355.33 306.62 L355.95 306.75 L356.57 306.87 L357.20 307.00 L357.82 307.12 L358.44 307.25 L359.06 307.37 L359.68 307.49 L360.30 307.61 L360.93 307.73 L361.55 307.86 L362.17 307.98 L362.79 308.10 L363.41 308.21 L364.03 308.33 L364.66 308.45 L365.28 308.57 L365.90 308.69 L366.52 308.80 L367.14 308.92 L367.76 309.03 L368.39 309.15 L369.01 309.26 L369.63 309.38 L370.25 309.49 L370.87 309.60 L371.49 309.71 L372.12 309.82 L372.74 309.94 L373.36 310.05 L373.98 310.16 L374.60 310.27 L375.22 310.38 L375.85 310.48 L376.47 310.59 L377.09 310.70 L377.71 310.81 L378.33 310.91 L378.95 311.02 L379.58 311.13 L380.20 311.23 L380.82 311.34 L381.44 311.44 L382.06 311.55 L382.68 311.65 L383.31 311.75 L383.93 311.85 L384.55 311.96 L385.17 312.06 L385.79 312.16 L386.41 312.26 L387.04 312.36 L387.66 312.46 L388.28 312.56 L388.90 312.66 L389.52 312.76 L390.14 312.86 L390.77 312.95 L391.39 313.05 L392.01 313.15 L392.63 313.24 L393.25 313.34 L393.87 313.44 L394.50 313.53 L395.12 313.63 L395.74 313.72 L396.36 313.82 L396.98 313.91 L397.60 314.00 L398.23 314.09 L398.85 314.19 L399.47 314.28 L400.09 314.37 L400.71 314.46 L401.33 314.55 L401.96 314.64 L402.58 314.73 L403.20 314.82 L403.82 314.91 L404.44 315.00 L405.06 315.09 L405.69 315.18 L406.31 315.27 L406.93 315.35 L407.55 315.44 L408.17 315.53 L408.79 315.61 L409.42 315.70 L410.04 315.78 L410.66 315.87 L411.28 315.95 L411.90 316.04 L412.52 316.12 L413.15 316.21 L413.77 316.29 L414.39 316.37 L415.01 316.46 L415.63 316.54 L416.25 316.62 L416.88 316.70 L417.50 316.78 L418.12 316.86 L418.74 316.94 L419.36 317.02 L419.98 317.10 L420.61 317.18 L421.23 317.26 L421.85 317.34 L422.47 317.42 L423.09 317.50 L423.71 317.58 L424.34 317.65 L424.96 317.73 L425.58 317.81 L426.20 317.88 L426.82 317.96 L427.44 318.04 L428.07 318.11 L428.69 318.19 L429.31 318.26 L429.93 318.34 L430.55 318.41 L431.17 318.49 L431.80 318.56 L432.42 318.63 L433.04 318.71 L433.66 318.78 L434.28 318.85 L434.90 318.92 L435.53 319.00 L436.15 319.07 L436.77 319.14 L437.39 319.21 L438.01 319.28 L438.63 319.35 L439.26 319.42 L439.88 319.49 L440.50 319.56 L441.12 319.63 L441.74 319.70 L442.36 319.77 L442.99 319.84 L443.61 319.90 L444.23 319.97 L444.85 320.04 L445.47 320.11 L446.09 320.17 L446.72 320.24 L447.34 320.31 L447.96 320.37 L448.58 320.44 L449.20 320.50 L449.82 320.57 L450.45 320.63 L451.07 320.70 L451.69 320.76 L452.31 320.83 L452.93 320.89 L453.55 320.96 L454.18 321.02 L454.80 321.08 L455.42 321.15 L456.04 321.21 L456.66 321.27 L457.28 321.33 L457.91 321.39 L458.53 321.46 L459.15 321.52 L459.77 321.58 L460.39 321.64 L461.01 321.70 L461.64 321.76 L462.26 321.82 L462.88 321.88 L463.50 321.94 L464.12 322.00 L464.74 322.06 L465.37 322.12 L465.99 322.18 L466.61 322.24 L467.23 322.29 L467.85 322.35 L468.47 322.41 L469.10 322.47 L469.72 322.52 L470.34 322.58 L470.96 322.64 L471.58 322.69 L472.20 322.75 L472.83 322.81 L473.45 322.86 L474.07 322.92 L474.69 322.97 L475.31 323.03 L475.93 323.08 L476.56 323.14 L477.18 323.19 L477.80 323.25 L478.42 323.30 L479.04 323.36 L479.66 323.41 L480.29 323.46 L480.91 323.52 L481.53 323.57 L482.15 323.62 L482.77 323.67 L483.39 323.73 L484.02 323.78 L484.64 323.83 L485.26 323.88 L485.88 323.93 L486.50 323.98 L487.12 324.04 L487.75 324.09 L488.37 324.14 L488.99 324.19 L489.61 324.24 L490.23 324.29 L490.85 324.34 L491.48 324.39" stroke-dasharray="13.5 5.9" stroke-dashoffset="4.11"/>
<path stroke="#81D4FA" d="M151.77 -25.98 L152.47 -22.01 L153.18 -18.12 L153.88 -14.29 L154.59 -10.53 L155.29 -6.83 L156.00 -3.19 L156.70 0.38 L157.41 3.89 L158.11 7.35 L158.82 10.75 L159.52 14.09 L160.23 17.38 L160.93 20.62 L161.64 23.81 L162.34 26.94 L163.05 30.03 L163.75 33.07 L164.45 36.06 L165.16 39.00 L165.86 41.90 L166.57 44.76 L167.27 47.57 L167.98 50.34 L168.68 53.07 L169.39 55.76 L170.09 58.41 L170.80 61.03 L171.50 63.60 L172.21 66.14 L172.91 68.64 L173.62 71.10 L174.32 73.53 L175.03 75.93 L175.73 78.30 L176.44 80.63 L177.14 82.93 L177.85 85.19 L178.55 87.43 L179.26 89.64 L179.96 91.82 L180.67 93.97 L181.37 96.09 L182.07 98.18 L182.78 100.24 L183.48 102.28 L184.19 104.30 L184.89 106.28 L185.60 108.24 L186.30 110.18 L187.01 112.09 L187.71 113.98 L188.42 115.85 L189.12 117.69 L189.83 119.51 L190.53 121.31 L191.24 123.08 L191.94 124.84 L192.65 126.57 L193.35 128.28 L194.06 129.97 L194.76 131.65 L195.47 133.30 L196.17 134.93 L196.88 136.54 L197.58 138.14 L198.28 139.72 L198.99 141.28 L199.69 142.82 L200.40 144.34 L201.10 145.85 L201.81 147.34 L202.51 148.81 L203.22 150.27 L203.92 151.71 L204.63 153.14 L205.33 154.55 L206.04 155.94 L206.74 157.32 L207.45 158.69 L208.15 160.04 L208.86 161.37 L209.56 162.69 L210.27 164.00 L210.97 165.30 L211.68 166.58 L212.38 167.84 L213.09 169.10 L213.79 170.34 L214.49 171.57 L215.20 172.79 L215.90 173.99 L216.61 175.18 L217.31 176.36 L218.02 177.53 L218.72 178.69 L219.43 179.83 L220.13 180.97 L220.84 182.09 L221.54 183.20 L222.25 184.30 L222.95 185.39 L223.66 186.47 L224.36 187.54 L225.07 188.60 L225.77 189.65 L226.48 190.69 L227.18 191.72 L227.89 192.74 L228.59 193.75 L229.30 194.75 L230.00 195.75 L230.70 196.73 L231.41 197.70 L232.11 198.67 L232.82 199.62 L233.52 200.57 L234.23 201.51 L234.93 202.44 L235.64 203.36 L236.34 204.28 L237.05 205.19 L237.75 206.08 L238.46 206.97 L239.16 207.86 L239.87 208.73 L240.57 209.60 L241.28 210.46 L241.98 211.31 L242.69 212.16 L243.39 212.99 L244.10 213.83 L244.80 214.65 L245.51 215.47 L246.21 216.28 L246.91 217.08 L247.62 217.88 L248.32 218.67 L249.03 219.45 L249.73 220.23 L250.44 221.00 L251.14 221.76 L251.85 222.52 L252.55 223.27 L253.26 224.02 L253.96 224.76 L254.67 225.49 L255.37 226.22 L256.08 226.94 L256.78 227.66 L257.49 228.37 L258.19 229.08 L258.90 229.78 L259.60 230.47 L260.31 231.16 L261.01 231.85 L261.72 232.52 L262.42 233.20 L263.12 233.87 L263.83 234.53 L264.53 235.19 L265.24 235.84 L265.94 236.49 L266.65 237.13 L267.35 237.77 L268.06 238.40 L268.76 239.03 L269.47 239.66 L270.17 240.28 L270.88 240.89 L271.58 241.50 L272.29 242.11 L272.99 242.71 L273.70 243.31 L274.40 243.90 L275.11 244.49 L275.81 245.07 L276.52 245.65 L277.22 246.23 L277.93 246.80 L278.63 247.37 L279.33 247.94 L280.04 248.50 L280.74 249.05 L281.45 249.60 L282.15 250.15 L282.86 250.70 L283.56 251.24 L284.27 251.78 L284.97 252.31 L285.68 252.84 L286.38 253.37 L287.09 253.89 L287.79 254.41 L288.50 254.92 L289.20 255.44 L289.91 255.94 L290.61 256.45 L291.32 256.95 L292.02 257.45 L292.73 257.95 L293.43 258.44 L294.14 258.93 L294.84 259.41 L295.54 259.89 L296.25 260.37 L296.95 260.85 L297.66 261.32 L298.36 261.79 L299.07 262.26 L299.77 262.72 L300.48 263.18 L301.18 263.64 L301.89 264.10 L302.59 264.55 L303.30 265.00 L304.00 265.45 L304.71 265.89 L305.41 266.33 L306.12 266.77 L306.82 267.20 L307.53 267.64 L308.23 268.07 L308.94 268.49 L309.64 268.92 L310.35 269.34 L311.05 269.76 L311.75 270.18 L312.46 270.59 L313.16 271.00 L313.87 271.41 L314.57 271.82 L315.28 272.23 L315.98 272.63 L316.69 273.03 L317.39 273.42 L318.10 273.82 L318.80 274.21 L319.51 274.60 L320.21 274.99 L320.92 275.38 L321.62 275.76 L322.33 276.14 L323.03 276.52 L323.74 276.90 L324.44 277.27 L325.15 277.64 L325.85 278.01 L326.56 278.38 L327.26 278.75 L327.96 279.11 L328.67 279.47 L329.37 279.83 L330.08 280.19 L330.78 280.55 L331.49 280.90 L332.19 281.25 L332.90 281.60 L333.60 281.95 L334.31 282.30 L335.01 282.64 L335.72 282.98 L336.42 283.32 L337.13 283.66 L337.83 284.00 L338.54 284.33 L339.24 284.67 L339.95 285.00 L340.65 285.33 L341.36 285.65 L342.06 285.98 L342.77 286.30 L343.47 286.63 L344.18 286.95 L344.88 287.26 L345.58 287.58 L346.29 287.90 L346.99 288.21 L347.70 288.52 L348.40 288.83 L349.11 289.14 L349.81 289.45 L350.52 289.75 L351.22 290.06 L351.93 290.36 L352.63 290.66 L353.34 290.96 L354.04 291.26 L354.75 291.55 L355.45 291.85 L356.16 292.14 L356.86 292.43 L357.57 292.72 L358.27 293.01 L358.98 293.30 L359.68 293.58 L360.39 293.87 L361.09 294.15 L361.79 294.43 L362.50 294.71 L363.20 294.99 L363.91 295.27 L364.61 295.54 L365.32 295.82 L366.02 296.09 L366.73 296.36 L367.43 296.63 L368.14 296.90 L368.84 297.17 L369.55 297.44 L370.25 297.70 L370.96 297.96 L371.66 298.23 L372.37 298.49 L373.07 298.75 L373.78 299.01 L374.48 299.26 L375.19 299.52 L375.89 299.77 L376.60 300.03 L377.30 300.28 L378.00 300.53 L378.71 300.78 L379.41 301.03 L380.12 301.28 L380.82 301.53 L381.53 301.77 L382.23 302.02 L382.94 302.26 L383.64 302.50 L384.35 302.74 L385.05 302.98 L385.76 303.22 L386.46 303.46 L387.17 303.69 L387.87 303.93 L388.58 304.16 L389.28 304.40 L389.99 304.63 L390.69 304.86 L391.40 305.09 L392.10 305.32 L392.81 305.55 L393.51 305.77 L394.21 306.00 L394.92 306.22 L395.62 306.45 L396.33 306.67 L397.03 306.89 L397.74 307.11 L398.44 307.33 L399.15 307.55 L399.85 307.77 L400.56 307.99 L401.26 308.20 L401.97 308.42 L402.67 308.63 L403.38 308.84 L404.08 309.06 L404.79 309.27 L405.49 309.48 L406.20 309.69 L406.90 309.90 L407.61 310.10 L408.31 310.31 L409.02 310.52 L409.72 310.72 L410.42 310.93 L411.13 311.13 L411.83 311.33 L412.54 311.53 L413.24 311.73 L413.95 311.93 L414.65 312.13 L415.36 312.33 L416.06 312.53 L416.77 312.72 L417.47 312.92 L418.18 313.11 L418.88 313.31 L419.59 313.50 L420.29 313.69 L421.00 313.88 L421.70 314.08 L422.41 314.27 L423.11 314.45 L423.82 314.64 L424.52 314.83 L425.23 315.02 L425.93 315.20 L426.63 315.39 L427.34 315.57 L428.04 315.76 L428.75 315.94 L429.45 316.12 L430.16 316.30 L430.86 316.48 L431.57 316.67 L432.27 316.84 L432.98 317.02 L433.68 317.20 L434.39 317.38 L435.09 317.55 L435.80 317.73 L436.50 317.91 L437.21 318.08 L437.91 318.25 L438.62 318.43 L439.32 318.60 L440.03 318.77 L440.73 318.94 L441.44 319.11 L442.14 319.28 L442.84 319.45 L443.55 319.62 L444.25 319.79 L444.96 319.95 L445.66 320.12 L446.37 320.29 L447.07 320.45 L447.78 320.62 L448.48 320.78 L449.19 320.94 L449.89 321.11 L450.60 321.27 L451.30 321.43 L452.01 321.59 L452.71 321.75 L453.42 321.91 L454.12 322.07 L454.83 322.23 L455.53 322.38 L456.24 322.54 L456.94 322.70 L457.65 322.85 L458.35 323.01 L459.05 323.16 L459.76 323.32 L460.46 323.47 L461.17 323.63 L461.87 323.78 L462.58 323.93 L463.28 324.08 L463.99 324.23 L464.69 324.38 L465.40 324.53 L466.10 324.68 L466.81 324.83 L467.51 324.98 L468.22 325.13 L468.92 325.27 L469.63 325.42 L470.33 325.57 L471.04 325.71 L471.74 325.86 L472.45 326.00 L473.15 326.14 L473.86 326.29 L474.56 326.43 L475.26 326.57 L475.97 326.72 L476.67 326.86 L477.38 327.00 L478.08 327.14 L478.79 327.28 L479.49 327.42 L480.20 327.56 L480.90 327.69 L481.61 327.83 L482.31 327.97 L483.02 328.11 L483.72 328.24 L484.43 328.38 L485.13 328.51 L485.84 328.65 L486.54 328.78 L487.25 328.92 L487.95 329.05 L488.66 329.18 L489.36 329.32 L490.07 329.45 L490.77 329.58 L491.48 329.71" stroke-dasharray="3.65 5.9" stroke-dashoffset="9.26"/>
<g fill="#FA4E08" stroke="none">
<circle cx="119.30" cy="12.20" r="8.30"/>
<circle cx="160.40" cy="156.00" r="8.30"/>
<circle cx="202.00" cy="223.00" r="8.30"/>
<circle cx="243.75" cy="265.00" r="8.30"/>
<circle cx="285.00" cy="291.25" r="8.30"/>
<circle cx="325.75" cy="310.50" r="8.30"/>
<circle cx="367.50" cy="323.75" r="8.30"/>
<circle cx="408.75" cy="335.00" r="8.30"/>
<circle cx="450.50" cy="344.50" r="8.30"/>
<circle cx="491.75" cy="352.00" r="8.30"/>
</g>
<g fill="#81D4FA" stroke="none">
<circle cx="118.90" cy="37.80" r="8.30"/>
<circle cx="159.90" cy="182.40" r="8.30"/>
<circle cx="202.00" cy="252.50" r="8.30"/>
<circle cx="243.75" cy="291.25" r="8.30"/>
<circle cx="284.50" cy="316.25" r="8.30"/>
<circle cx="326.00" cy="333.75" r="8.30"/>
<circle cx="367.50" cy="346.50" r="8.30"/>
<circle cx="408.75" cy="357.00" r="8.30"/>
<circle cx="450.50" cy="365.00" r="8.30"/>
<circle cx="491.75" cy="372.50" r="8.30"/>
</g>
</g>
<g stroke="#000" fill="none">
<path d="M119.10 411.50 v-4.7" stroke-width="1.9"/>
<path d="M160.47 411.50 v-7.7" stroke-width="2.2"/>
<path d="M201.85 411.50 v-4.7" stroke-width="1.9"/>
<path d="M243.22 411.50 v-7.7" stroke-width="2.2"/>
<path d="M284.60 411.50 v-4.7" stroke-width="1.9"/>
<path d="M325.98 411.50 v-7.7" stroke-width="2.2"/>
<path d="M367.35 411.50 v-4.7" stroke-width="1.9"/>
<path d="M408.73 411.50 v-7.7" stroke-width="2.2"/>
<path d="M450.10 411.50 v-4.7" stroke-width="1.9"/>
<path d="M491.48 411.50 v-7.7" stroke-width="2.2"/>
<path d="M100.80 385.80 h4.7" stroke-width="1.9"/>
<path d="M100.80 367.36 h4.7" stroke-width="1.9"/>
<path d="M100.80 353.05 h4.7" stroke-width="1.9"/>
<path d="M100.80 341.36 h4.7" stroke-width="1.9"/>
<path d="M100.80 331.47 h4.7" stroke-width="1.9"/>
<path d="M100.80 322.91 h4.7" stroke-width="1.9"/>
<path d="M100.80 315.36 h4.7" stroke-width="1.9"/>
<path d="M100.80 308.60 h7.7" stroke-width="2.2"/>
<path d="M100.80 264.15 h4.7" stroke-width="1.9"/>
<path d="M100.80 238.15 h4.7" stroke-width="1.9"/>
<path d="M100.80 219.71 h4.7" stroke-width="1.9"/>
<path d="M100.80 205.40 h4.7" stroke-width="1.9"/>
<path d="M100.80 193.71 h4.7" stroke-width="1.9"/>
<path d="M100.80 183.82 h4.7" stroke-width="1.9"/>
<path d="M100.80 175.26 h4.7" stroke-width="1.9"/>
<path d="M100.80 167.71 h4.7" stroke-width="1.9"/>
<path d="M100.80 160.95 h7.7" stroke-width="2.2"/>
<path d="M100.80 116.50 h4.7" stroke-width="1.9"/>
<path d="M100.80 90.50 h4.7" stroke-width="1.9"/>
<path d="M100.80 72.06 h4.7" stroke-width="1.9"/>
<path d="M100.80 57.75 h4.7" stroke-width="1.9"/>
<path d="M100.80 46.06 h4.7" stroke-width="1.9"/>
<path d="M100.80 36.17 h4.7" stroke-width="1.9"/>
<path d="M100.80 27.61 h4.7" stroke-width="1.9"/>
<path d="M100.80 20.06 h4.7" stroke-width="1.9"/>
<path d="M100.80 13.30 h7.7" stroke-width="2.2"/>
<rect x="100.80" y="2.30" width="409.80" height="409.20" stroke-width="2.50"/>
</g>
<g font-size="26.4">
<text x="160.47" y="439.70" text-anchor="middle">200</text>
<text x="243.22" y="439.70" text-anchor="middle">400</text>
<text x="325.98" y="439.70" text-anchor="middle">600</text>
<text x="408.73" y="439.70" text-anchor="middle">800</text>
<text x="491.48" y="439.70" text-anchor="middle">1000</text>
<text x="80.6" y="318.10" text-anchor="end" font-size="26">10</text>
<text x="80.8" y="308.10" font-size="18.2">2</text>
<text x="80.6" y="170.45" text-anchor="end" font-size="26">10</text>
<text x="80.8" y="160.45" font-size="18.2">3</text>
<text x="80.6" y="22.80" text-anchor="end" font-size="26">10</text>
<text x="80.8" y="12.80" font-size="18.2">4</text>
<text x="305.6" y="472.80" text-anchor="middle" font-size="26.6">Temperature [K]</text>
</g>
<g transform="translate(28 285.40) rotate(-90)">
<text x="0" y="0" font-size="26">Mobility</text><text x="98.2" y="0" font-size="26">[</text>
<text x="107" y="-10.7" font-size="19">cm</text>
<text x="133" y="-18.8" font-size="13">2</text>
<rect x="105.6" y="-5.6" width="37.5" height="1.8" fill="#000"/>
<text x="113" y="11.8" font-size="19">Vs</text>
<text x="146.6" y="0" font-size="26">]</text>
</g>
<text x="501.5" y="42.3" font-size="31.6" text-anchor="end">(a) Electron</text>
<rect x="288.9" y="75.8" width="194.4" height="110.4" rx="4" ry="4" fill="#fff" stroke="#000" stroke-width="2.5"/>
<g stroke="#000" stroke-width="4" fill="none">
<path d="M296.3 93.8H333.2"/>
<path d="M298.3 128.5H333.2" stroke-dasharray="14 5"/>
<path d="M298.3 163.3H333.2" stroke-dasharray="4.2 5.5"/>
</g>
<g font-size="24"><text x="344" y="102.2">Full model</text><text x="344" y="137">Low-energy</text><text x="344" y="171">High-energy</text></g>
<g class="dj" font-size="31"><text class="dj" transform="translate(380.50 253.50) scale(1.22 1)" text-anchor="middle" style="fill:#FA4E08;stroke:#FA4E08;stroke-width:0.7px">∥</text><text class="dj" x="394.30" y="253.80" style="fill:#FA4E08;stroke:#FA4E08;stroke-width:0.7px">c</text></g>
<g><text class="dj" font-size="31" x="174" y="327.7" style="fill:#81D4FA;stroke:none">⊥</text><text class="dj" font-size="31" x="201.8" y="327.9" style="fill:#81D4FA;stroke:none">c</text></g>
<!-- (b) -->
<g clip-path="url(#cb)" fill="none" stroke-width="3.90">
<path stroke="#FA4E08" d="M124.06 481.98 L124.68 487.37 L125.29 492.77 L125.91 498.16 L126.52 503.56 L127.13 508.97 L127.75 514.65 L128.36 520.36 L128.97 525.73 L129.59 530.40 L130.20 534.53 L130.81 538.38 L131.43 541.99 L132.04 545.39 L132.65 548.63 L133.27 551.74 L133.88 554.75 L134.49 557.69 L135.11 560.59 L135.72 563.47 L136.33 566.36 L136.95 569.29 L137.56 572.26 L138.17 575.21 L138.79 578.14 L139.40 581.03 L140.01 583.90 L140.63 586.73 L141.24 589.52 L141.85 592.29 L142.47 595.02 L143.08 597.71 L143.69 600.37 L144.31 603.00 L144.92 605.59 L145.53 608.14 L146.15 610.66 L146.76 613.14 L147.37 615.58 L147.99 617.98 L148.60 620.34 L149.21 622.67 L149.83 624.97 L150.44 627.23 L151.05 629.47 L151.67 631.68 L152.28 633.85 L152.89 635.99 L153.51 638.10 L154.12 640.19 L154.73 642.26 L155.35 644.32 L155.96 646.36 L156.57 648.39 L157.19 650.42 L157.80 652.44 L158.41 654.50 L159.03 656.64 L159.64 658.81 L160.25 660.91 L160.87 662.89 L161.48 664.67 L162.09 666.21 L162.71 667.57 L163.32 668.82 L163.93 669.98 L164.55 671.08 L165.16 672.14 L165.77 673.19 L166.39 674.26 L167.00 675.36 L167.61 676.53 L168.23 677.74 L168.84 678.98 L169.45 680.24 L170.07 681.52 L170.68 682.80 L171.29 684.09 L171.91 685.38 L172.52 686.67 L173.13 687.95 L173.75 689.22 L174.36 690.48 L174.97 691.72 L175.59 692.94 L176.20 694.13 L176.82 695.30 L177.43 696.44 L178.04 697.55 L178.66 698.62 L179.27 699.68 L179.88 700.73 L180.50 701.78 L181.11 702.81 L181.72 703.82 L182.34 704.83 L182.95 705.83 L183.56 706.81 L184.18 707.77 L184.79 708.73 L185.40 709.67 L186.02 710.59 L186.63 711.50 L187.24 712.39 L187.86 713.27 L188.47 714.13 L189.08 714.97 L189.70 715.80 L190.31 716.61 L190.92 717.41 L191.54 718.18 L192.15 718.94 L192.76 719.67 L193.38 720.39 L193.99 721.08 L194.60 721.76 L195.22 722.41 L195.83 723.06 L196.44 723.69 L197.06 724.31 L197.67 724.93 L198.28 725.54 L198.90 726.14 L199.51 726.75 L200.12 727.35 L200.74 727.95 L201.35 728.55 L201.96 729.16 L202.58 729.78 L203.19 730.39 L203.80 731.00 L204.42 731.61 L205.03 732.21 L205.64 732.81 L206.26 733.41 L206.87 734.01 L207.48 734.60 L208.10 735.19 L208.71 735.78 L209.32 736.37 L209.94 736.95 L210.55 737.53 L211.16 738.11 L211.78 738.69 L212.39 739.26 L213.00 739.83 L213.62 740.40 L214.23 740.97 L214.84 741.53 L215.46 742.09 L216.07 742.65 L216.68 743.21 L217.30 743.77 L217.91 744.32 L218.52 744.87 L219.14 745.42 L219.75 745.96 L220.36 746.51 L220.98 747.05 L221.59 747.59 L222.20 748.12 L222.82 748.66 L223.43 749.19 L224.04 749.72 L224.66 750.25 L225.27 750.77 L225.88 751.30 L226.50 751.82 L227.11 752.34 L227.72 752.86 L228.34 753.38 L228.95 753.89 L229.57 754.40 L230.18 754.91 L230.79 755.42 L231.41 755.93 L232.02 756.43 L232.63 756.93 L233.25 757.43 L233.86 757.93 L234.47 758.43 L235.09 758.92 L235.70 759.42 L236.31 759.91 L236.93 760.40 L237.54 760.88 L238.15 761.37 L238.77 761.85 L239.38 762.34 L239.99 762.82 L240.61 763.29 L241.22 763.77 L241.83 764.25 L242.45 764.72 L243.06 765.19 L243.67 765.66 L244.29 766.13 L244.90 766.60 L245.51 767.07 L246.13 767.54 L246.74 768.01 L247.35 768.48 L247.97 768.95 L248.58 769.42 L249.19 769.89 L249.81 770.35 L250.42 770.82 L251.03 771.28 L251.65 771.75 L252.26 772.21 L252.87 772.67 L253.49 773.13 L254.10 773.59 L254.71 774.05 L255.33 774.51 L255.94 774.96 L256.55 775.42 L257.17 775.87 L257.78 776.32 L258.39 776.77 L259.01 777.22 L259.62 777.66 L260.23 778.11 L260.85 778.55 L261.46 778.99 L262.07 779.43 L262.69 779.86 L263.30 780.30 L263.91 780.73 L264.53 781.16 L265.14 781.59 L265.75 782.01 L266.37 782.43 L266.98 782.85 L267.59 783.27 L268.21 783.69 L268.82 784.10 L269.43 784.51 L270.05 784.92 L270.66 785.33 L271.27 785.73 L271.89 786.13 L272.50 786.53 L273.11 786.93 L273.73 787.32 L274.34 787.71 L274.95 788.10 L275.57 788.48 L276.18 788.86 L276.79 789.24 L277.41 789.62 L278.02 789.99 L278.63 790.36 L279.25 790.73 L279.86 791.09 L280.47 791.45 L281.09 791.81 L281.70 792.17 L282.32 792.52 L282.93 792.87 L283.54 793.22 L284.16 793.56 L284.77 793.90 L285.38 794.24 L286.00 794.57 L286.61 794.90 L287.22 795.23 L287.84 795.56 L288.45 795.88 L289.06 796.21 L289.68 796.53 L290.29 796.85 L290.90 797.16 L291.52 797.48 L292.13 797.79 L292.74 798.10 L293.36 798.41 L293.97 798.71 L294.58 799.02 L295.20 799.32 L295.81 799.62 L296.42 799.92 L297.04 800.22 L297.65 800.51 L298.26 800.81 L298.88 801.10 L299.49 801.39 L300.10 801.68 L300.72 801.96 L301.33 802.25 L301.94 802.53 L302.56 802.82 L303.17 803.10 L303.78 803.38 L304.40 803.66 L305.01 803.93 L305.62 804.21 L306.24 804.49 L306.85 804.76 L307.46 805.03 L308.08 805.30 L308.69 805.57 L309.30 805.84 L309.92 806.11 L310.53 806.38 L311.14 806.64 L311.76 806.91 L312.37 807.17 L312.98 807.44 L313.60 807.70 L314.21 807.96 L314.82 808.22 L315.44 808.48 L316.05 808.74 L316.66 809.00 L317.28 809.25 L317.89 809.51 L318.50 809.76 L319.12 810.02 L319.73 810.27 L320.34 810.53 L320.96 810.78 L321.57 811.03 L322.18 811.28 L322.80 811.54 L323.41 811.79 L324.02 812.04 L324.64 812.29 L325.25 812.53 L325.86 812.78 L326.48 813.03 L327.09 813.28 L327.70 813.53 L328.32 813.77 L328.93 814.02 L329.54 814.26 L330.16 814.51 L330.77 814.75 L331.38 815.00 L332.00 815.24 L332.61 815.48 L333.22 815.72 L333.84 815.96 L334.45 816.20 L335.07 816.44 L335.68 816.68 L336.29 816.92 L336.91 817.16 L337.52 817.39 L338.13 817.63 L338.75 817.86 L339.36 818.10 L339.97 818.33 L340.59 818.56 L341.20 818.79 L341.81 819.02 L342.43 819.25 L343.04 819.48 L343.65 819.71 L344.27 819.94 L344.88 820.17 L345.49 820.39 L346.11 820.62 L346.72 820.84 L347.33 821.06 L347.95 821.29 L348.56 821.51 L349.17 821.73 L349.79 821.95 L350.40 822.17 L351.01 822.38 L351.63 822.60 L352.24 822.82 L352.85 823.03 L353.47 823.24 L354.08 823.46 L354.69 823.67 L355.31 823.88 L355.92 824.09 L356.53 824.30 L357.15 824.51 L357.76 824.71 L358.37 824.92 L358.99 825.12 L359.60 825.33 L360.21 825.53 L360.83 825.73 L361.44 825.93 L362.05 826.13 L362.67 826.33 L363.28 826.53 L363.89 826.73 L364.51 826.92 L365.12 827.12 L365.73 827.31 L366.35 827.50 L366.96 827.69 L367.57 827.88 L368.19 828.07 L368.80 828.26 L369.41 828.45 L370.03 828.64 L370.64 828.82 L371.25 829.00 L371.87 829.19 L372.48 829.37 L373.09 829.55 L373.71 829.73 L374.32 829.91 L374.93 830.09 L375.55 830.27 L376.16 830.44 L376.77 830.62 L377.39 830.80 L378.00 830.97 L378.61 831.14 L379.23 831.32 L379.84 831.49 L380.45 831.66 L381.07 831.83 L381.68 832.00 L382.29 832.17 L382.91 832.34 L383.52 832.51 L384.13 832.67 L384.75 832.84 L385.36 833.01 L385.97 833.17 L386.59 833.34 L387.20 833.50 L387.82 833.66 L388.43 833.83 L389.04 833.99 L389.66 834.15 L390.27 834.31 L390.88 834.47 L391.50 834.63 L392.11 834.79 L392.72 834.95 L393.34 835.11 L393.95 835.27 L394.56 835.43 L395.18 835.59 L395.79 835.75 L396.40 835.90 L397.02 836.06 L397.63 836.22 L398.24 836.37 L398.86 836.53 L399.47 836.68 L400.08 836.84 L400.70 836.99 L401.31 837.15 L401.92 837.30 L402.54 837.45 L403.15 837.61 L403.76 837.76 L404.38 837.91 L404.99 838.07 L405.60 838.22 L406.22 838.37 L406.83 838.52 L407.44 838.68 L408.06 838.83 L408.67 838.98 L409.28 839.13 L409.90 839.28 L410.51 839.43 L411.12 839.58 L411.74 839.73 L412.35 839.88 L412.96 840.03 L413.58 840.18 L414.19 840.33 L414.80 840.48 L415.42 840.63 L416.03 840.77 L416.64 840.92 L417.26 841.07 L417.87 841.21 L418.48 841.36 L419.10 841.50 L419.71 841.65 L420.32 841.80 L420.94 841.94 L421.55 842.08 L422.16 842.23 L422.78 842.37 L423.39 842.51 L424.00 842.66 L424.62 842.80 L425.23 842.94 L425.84 843.08 L426.46 843.23 L427.07 843.37 L427.68 843.51 L428.30 843.65 L428.91 843.79 L429.52 843.93 L430.14 844.07 L430.75 844.21 L431.36 844.34 L431.98 844.48 L432.59 844.62 L433.20 844.76 L433.82 844.90 L434.43 845.03 L435.04 845.17 L435.66 845.31 L436.27 845.44 L436.88 845.58 L437.50 845.71 L438.11 845.85 L438.72 845.98 L439.34 846.12 L439.95 846.25 L440.57 846.38 L441.18 846.52 L441.79 846.65 L442.41 846.78 L443.02 846.91 L443.63 847.05 L444.25 847.18 L444.86 847.31 L445.47 847.44 L446.09 847.57 L446.70 847.70 L447.31 847.83 L447.93 847.96 L448.54 848.09 L449.15 848.22 L449.77 848.35 L450.38 848.47 L450.99 848.60 L451.61 848.73 L452.22 848.86 L452.83 848.98 L453.45 849.11 L454.06 849.24 L454.67 849.36 L455.29 849.49 L455.90 849.61 L456.51 849.74 L457.13 849.86 L457.74 849.99 L458.35 850.11 L458.97 850.24 L459.58 850.36 L460.19 850.48 L460.81 850.61 L461.42 850.73 L462.03 850.85 L462.65 850.97 L463.26 851.10 L463.87 851.22 L464.49 851.34 L465.10 851.46 L465.71 851.58 L466.33 851.70 L466.94 851.82 L467.55 851.94 L468.17 852.06 L468.78 852.18 L469.39 852.30 L470.01 852.42 L470.62 852.54 L471.23 852.65 L471.85 852.77 L472.46 852.89 L473.07 853.01 L473.69 853.12 L474.30 853.24 L474.91 853.36 L475.53 853.47 L476.14 853.59 L476.75 853.71 L477.37 853.82 L477.98 853.94 L478.59 854.05 L479.21 854.17 L479.82 854.28 L480.43 854.39 L481.05 854.51 L481.66 854.62 L482.27 854.74 L482.89 854.85 L483.50 854.96 L484.11 855.07 L484.73 855.19 L485.34 855.30 L485.95 855.41 L486.57 855.52 L487.18 855.63 L487.79 855.74 L488.41 855.86 L489.02 855.97 L489.63 856.08 L490.25 856.19 L490.86 856.30 L491.48 856.41"/>
<path stroke="#FA4E08" d="M124.06 481.98 L124.68 487.37 L125.29 492.77 L125.91 498.16 L126.52 503.56 L127.13 508.97 L127.75 514.65 L128.36 520.36 L128.97 525.73 L129.59 530.40 L130.20 534.53 L130.81 538.38 L131.43 541.99 L132.04 545.39 L132.65 548.63 L133.27 551.74 L133.88 554.75 L134.49 557.69 L135.11 560.59 L135.72 563.47 L136.33 566.36 L136.95 569.29 L137.56 572.26 L138.17 575.21 L138.79 578.14 L139.40 581.03 L140.01 583.90 L140.63 586.73 L141.24 589.52 L141.85 592.29 L142.47 595.02 L143.08 597.71 L143.69 600.37 L144.31 603.00 L144.92 605.59 L145.53 608.14 L146.15 610.66 L146.76 613.14 L147.37 615.58 L147.99 617.98 L148.60 620.34 L149.21 622.67 L149.83 624.97 L150.44 627.23 L151.05 629.47 L151.67 631.68 L152.28 633.85 L152.89 635.99 L153.51 638.10 L154.12 640.19 L154.73 642.26 L155.35 644.32 L155.96 646.36 L156.57 648.39 L157.19 650.42 L157.80 652.44 L158.41 654.50 L159.03 656.64 L159.64 658.81 L160.25 660.91 L160.87 662.89 L161.48 664.67 L162.09 666.21 L162.71 667.57 L163.32 668.82 L163.93 669.98 L164.55 671.08 L165.16 672.14 L165.77 673.19 L166.39 674.26 L167.00 675.36 L167.61 676.53 L168.23 677.74 L168.84 678.98 L169.45 680.24 L170.07 681.52 L170.68 682.80 L171.29 684.09 L171.91 685.38 L172.52 686.67 L173.13 687.96 L173.75 689.23 L174.36 690.49 L174.97 691.73 L175.59 692.95 L176.20 694.14 L176.82 695.31 L177.43 696.44 L178.04 697.55 L178.66 698.62 L179.27 699.68 L179.88 700.73 L180.50 701.76 L181.11 702.79 L181.72 703.80 L182.34 704.81 L182.95 705.80 L183.56 706.77 L184.18 707.73 L184.79 708.68 L185.40 709.61 L186.02 710.53 L186.63 711.43 L187.24 712.31 L187.86 713.18 L188.47 714.03 L189.08 714.87 L189.70 715.68 L190.31 716.48 L190.92 717.26 L191.54 718.02 L192.15 718.76 L192.76 719.48 L193.38 720.17 L193.99 720.84 L194.60 721.49 L195.22 722.13 L195.83 722.75 L196.44 723.35 L197.06 723.95 L197.67 724.54 L198.28 725.13 L198.90 725.71 L199.51 726.29 L200.12 726.88 L200.74 727.47 L201.35 728.06 L201.96 728.66 L202.58 729.28 L203.19 729.89 L203.80 730.51 L204.42 731.13 L205.03 731.75 L205.64 732.37 L206.26 732.99 L206.87 733.62 L207.48 734.24 L208.10 734.86 L208.71 735.48 L209.32 736.10 L209.94 736.71 L210.55 737.33 L211.16 737.94 L211.78 738.55 L212.39 739.16 L213.00 739.76 L213.62 740.36 L214.23 740.96 L214.84 741.55 L215.46 742.14 L216.07 742.72 L216.68 743.30 L217.30 743.87 L217.91 744.44 L218.52 745.00 L219.14 745.56 L219.75 746.11 L220.36 746.65 L220.98 747.19 L221.59 747.72 L222.20 748.25 L222.82 748.77 L223.43 749.28 L224.04 749.80 L224.66 750.31 L225.27 750.81 L225.88 751.32 L226.50 751.82 L227.11 752.31 L227.72 752.81 L228.34 753.30 L228.95 753.78 L229.57 754.27 L230.18 754.75 L230.79 755.22 L231.41 755.69 L232.02 756.16 L232.63 756.63 L233.25 757.09 L233.86 757.55 L234.47 758.00 L235.09 758.45 L235.70 758.89 L236.31 759.33 L236.93 759.77 L237.54 760.20 L238.15 760.63 L238.77 761.06 L239.38 761.48 L239.99 761.89 L240.61 762.31 L241.22 762.71 L241.83 763.12 L242.45 763.52 L243.06 763.91 L243.67 764.30 L244.29 764.69 L244.90 765.07 L245.51 765.44 L246.13 765.82 L246.74 766.18 L247.35 766.55 L247.97 766.91 L248.58 767.27 L249.19 767.62 L249.81 767.98 L250.42 768.32 L251.03 768.67 L251.65 769.01 L252.26 769.35 L252.87 769.69 L253.49 770.03 L254.10 770.36 L254.71 770.69 L255.33 771.02 L255.94 771.34 L256.55 771.67 L257.17 771.99 L257.78 772.31 L258.39 772.63 L259.01 772.95 L259.62 773.27 L260.23 773.58 L260.85 773.90 L261.46 774.21 L262.07 774.52 L262.69 774.83 L263.30 775.14 L263.91 775.45 L264.53 775.76 L265.14 776.07 L265.75 776.38 L266.37 776.69 L266.98 776.99 L267.59 777.30 L268.21 777.61 L268.82 777.91 L269.43 778.22 L270.05 778.53 L270.66 778.83 L271.27 779.13 L271.89 779.44 L272.50 779.74 L273.11 780.04 L273.73 780.34 L274.34 780.64 L274.95 780.94 L275.57 781.24 L276.18 781.54 L276.79 781.83 L277.41 782.13 L278.02 782.42 L278.63 782.71 L279.25 783.00 L279.86 783.29 L280.47 783.58 L281.09 783.87 L281.70 784.16 L282.32 784.44 L282.93 784.73 L283.54 785.01 L284.16 785.29 L284.77 785.57 L285.38 785.85 L286.00 786.12 L286.61 786.40 L287.22 786.67 L287.84 786.94 L288.45 787.21 L289.06 787.48 L289.68 787.75 L290.29 788.01 L290.90 788.27 L291.52 788.54 L292.13 788.80 L292.74 789.05 L293.36 789.31 L293.97 789.56 L294.58 789.82 L295.20 790.07 L295.81 790.32 L296.42 790.56 L297.04 790.81 L297.65 791.05 L298.26 791.29 L298.88 791.53 L299.49 791.77 L300.10 792.00 L300.72 792.23 L301.33 792.46 L301.94 792.69 L302.56 792.92 L303.17 793.14 L303.78 793.36 L304.40 793.58 L305.01 793.80 L305.62 794.02 L306.24 794.23 L306.85 794.44 L307.46 794.65 L308.08 794.86 L308.69 795.06 L309.30 795.27 L309.92 795.47 L310.53 795.67 L311.14 795.86 L311.76 796.06 L312.37 796.25 L312.98 796.44 L313.60 796.63 L314.21 796.82 L314.82 797.01 L315.44 797.20 L316.05 797.38 L316.66 797.56 L317.28 797.74 L317.89 797.92 L318.50 798.10 L319.12 798.28 L319.73 798.45 L320.34 798.63 L320.96 798.80 L321.57 798.97 L322.18 799.15 L322.80 799.32 L323.41 799.48 L324.02 799.65 L324.64 799.82 L325.25 799.98 L325.86 800.15 L326.48 800.31 L327.09 800.47 L327.70 800.64 L328.32 800.80 L328.93 800.96 L329.54 801.12 L330.16 801.27 L330.77 801.43 L331.38 801.59 L332.00 801.75 L332.61 801.90 L333.22 802.06 L333.84 802.21 L334.45 802.36 L335.07 802.52 L335.68 802.67 L336.29 802.82 L336.91 802.97 L337.52 803.12 L338.13 803.27 L338.75 803.42 L339.36 803.57 L339.97 803.72 L340.59 803.87 L341.20 804.02 L341.81 804.16 L342.43 804.31 L343.04 804.46 L343.65 804.60 L344.27 804.75 L344.88 804.90 L345.49 805.04 L346.11 805.19 L346.72 805.33 L347.33 805.48 L347.95 805.62 L348.56 805.77 L349.17 805.91 L349.79 806.06 L350.40 806.20 L351.01 806.34 L351.63 806.48 L352.24 806.63 L352.85 806.77 L353.47 806.91 L354.08 807.05 L354.69 807.19 L355.31 807.33 L355.92 807.47 L356.53 807.61 L357.15 807.75 L357.76 807.89 L358.37 808.02 L358.99 808.16 L359.60 808.30 L360.21 808.43 L360.83 808.57 L361.44 808.70 L362.05 808.84 L362.67 808.97 L363.28 809.10 L363.89 809.24 L364.51 809.37 L365.12 809.50 L365.73 809.63 L366.35 809.76 L366.96 809.89 L367.57 810.02 L368.19 810.15 L368.80 810.28 L369.41 810.41 L370.03 810.54 L370.64 810.66 L371.25 810.79 L371.87 810.92 L372.48 811.04 L373.09 811.17 L373.71 811.29 L374.32 811.41 L374.93 811.54 L375.55 811.66 L376.16 811.78 L376.77 811.90 L377.39 812.02 L378.00 812.14 L378.61 812.26 L379.23 812.38 L379.84 812.50 L380.45 812.62 L381.07 812.74 L381.68 812.85 L382.29 812.97 L382.91 813.08 L383.52 813.20 L384.13 813.31 L384.75 813.43 L385.36 813.54 L385.97 813.65 L386.59 813.77 L387.20 813.88 L387.82 813.99 L388.43 814.10 L389.04 814.21 L389.66 814.32 L390.27 814.43 L390.88 814.53 L391.50 814.64 L392.11 814.75 L392.72 814.86 L393.34 814.96 L393.95 815.07 L394.56 815.17 L395.18 815.28 L395.79 815.38 L396.40 815.48 L397.02 815.59 L397.63 815.69 L398.24 815.79 L398.86 815.89 L399.47 815.99 L400.08 816.09 L400.70 816.19 L401.31 816.29 L401.92 816.39 L402.54 816.49 L403.15 816.58 L403.76 816.68 L404.38 816.78 L404.99 816.87 L405.60 816.97 L406.22 817.06 L406.83 817.16 L407.44 817.25 L408.06 817.35 L408.67 817.44 L409.28 817.53 L409.90 817.63 L410.51 817.72 L411.12 817.81 L411.74 817.90 L412.35 817.99 L412.96 818.08 L413.58 818.17 L414.19 818.26 L414.80 818.35 L415.42 818.44 L416.03 818.53 L416.64 818.62 L417.26 818.71 L417.87 818.80 L418.48 818.88 L419.10 818.97 L419.71 819.06 L420.32 819.15 L420.94 819.23 L421.55 819.32 L422.16 819.40 L422.78 819.49 L423.39 819.57 L424.00 819.66 L424.62 819.74 L425.23 819.83 L425.84 819.91 L426.46 820.00 L427.07 820.08 L427.68 820.16 L428.30 820.24 L428.91 820.33 L429.52 820.41 L430.14 820.49 L430.75 820.57 L431.36 820.65 L431.98 820.73 L432.59 820.82 L433.20 820.90 L433.82 820.98 L434.43 821.06 L435.04 821.14 L435.66 821.22 L436.27 821.29 L436.88 821.37 L437.50 821.45 L438.11 821.53 L438.72 821.61 L439.34 821.69 L439.95 821.76 L440.57 821.84 L441.18 821.92 L441.79 821.99 L442.41 822.07 L443.02 822.15 L443.63 822.22 L444.25 822.30 L444.86 822.38 L445.47 822.45 L446.09 822.53 L446.70 822.60 L447.31 822.68 L447.93 822.75 L448.54 822.82 L449.15 822.90 L449.77 822.97 L450.38 823.05 L450.99 823.12 L451.61 823.19 L452.22 823.26 L452.83 823.34 L453.45 823.41 L454.06 823.48 L454.67 823.55 L455.29 823.63 L455.90 823.70 L456.51 823.77 L457.13 823.84 L457.74 823.91 L458.35 823.98 L458.97 824.05 L459.58 824.12 L460.19 824.19 L460.81 824.26 L461.42 824.33 L462.03 824.40 L462.65 824.47 L463.26 824.54 L463.87 824.61 L464.49 824.67 L465.10 824.74 L465.71 824.81 L466.33 824.88 L466.94 824.94 L467.55 825.01 L468.17 825.08 L468.78 825.15 L469.39 825.21 L470.01 825.28 L470.62 825.34 L471.23 825.41 L471.85 825.48 L472.46 825.54 L473.07 825.61 L473.69 825.67 L474.30 825.74 L474.91 825.80 L475.53 825.87 L476.14 825.93 L476.75 825.99 L477.37 826.06 L477.98 826.12 L478.59 826.19 L479.21 826.25 L479.82 826.31 L480.43 826.37 L481.05 826.44 L481.66 826.50 L482.27 826.56 L482.89 826.62 L483.50 826.69 L484.11 826.75 L484.73 826.81 L485.34 826.87 L485.95 826.93 L486.57 826.99 L487.18 827.05 L487.79 827.11 L488.41 827.17 L489.02 827.23 L489.63 827.29 L490.25 827.35 L490.86 827.41 L491.48 827.47" stroke-dasharray="13.5 5.9" stroke-dashoffset="4.12"/>
<path stroke="#FA4E08" d="M195.96 479.60 L196.63 482.08 L197.31 484.55 L197.98 486.99 L198.65 489.41 L199.32 491.81 L199.99 494.19 L200.66 496.54 L201.34 498.87 L202.01 501.19 L202.68 503.48 L203.35 505.75 L204.02 508.00 L204.69 510.22 L205.37 512.43 L206.04 514.62 L206.71 516.79 L207.38 518.94 L208.05 521.07 L208.72 523.18 L209.40 525.27 L210.07 527.35 L210.74 529.40 L211.41 531.44 L212.08 533.46 L212.75 535.46 L213.43 537.44 L214.10 539.41 L214.77 541.35 L215.44 543.29 L216.11 545.20 L216.78 547.10 L217.45 548.98 L218.13 550.84 L218.80 552.69 L219.47 554.52 L220.14 556.34 L220.81 558.14 L221.48 559.92 L222.16 561.69 L222.83 563.45 L223.50 565.19 L224.17 566.91 L224.84 568.62 L225.51 570.32 L226.19 572.00 L226.86 573.67 L227.53 575.32 L228.20 576.96 L228.87 578.58 L229.54 580.20 L230.22 581.79 L230.89 583.38 L231.56 584.95 L232.23 586.51 L232.90 588.05 L233.57 589.59 L234.25 591.11 L234.92 592.62 L235.59 594.11 L236.26 595.60 L236.93 597.07 L237.60 598.53 L238.27 599.97 L238.95 601.41 L239.62 602.84 L240.29 604.25 L240.96 605.65 L241.63 607.04 L242.30 608.42 L242.98 609.79 L243.65 611.15 L244.32 612.49 L244.99 613.83 L245.66 615.16 L246.33 616.47 L247.01 617.78 L247.68 619.07 L248.35 620.36 L249.02 621.63 L249.69 622.90 L250.36 624.15 L251.04 625.40 L251.71 626.64 L252.38 627.86 L253.05 629.08 L253.72 630.29 L254.39 631.49 L255.07 632.68 L255.74 633.86 L256.41 635.03 L257.08 636.20 L257.75 637.35 L258.42 638.50 L259.10 639.64 L259.77 640.77 L260.44 641.89 L261.11 643.00 L261.78 644.10 L262.45 645.20 L263.12 646.29 L263.80 647.37 L264.47 648.44 L265.14 649.51 L265.81 650.56 L266.48 651.61 L267.15 652.66 L267.83 653.69 L268.50 654.72 L269.17 655.74 L269.84 656.75 L270.51 657.76 L271.18 658.76 L271.86 659.75 L272.53 660.73 L273.20 661.71 L273.87 662.68 L274.54 663.64 L275.21 664.60 L275.89 665.55 L276.56 666.50 L277.23 667.43 L277.90 668.37 L278.57 669.29 L279.24 670.21 L279.92 671.12 L280.59 672.03 L281.26 672.93 L281.93 673.82 L282.60 674.71 L283.27 675.59 L283.94 676.47 L284.62 677.34 L285.29 678.20 L285.96 679.06 L286.63 679.92 L287.30 680.76 L287.97 681.61 L288.65 682.44 L289.32 683.27 L289.99 684.10 L290.66 684.92 L291.33 685.73 L292.00 686.54 L292.68 687.35 L293.35 688.15 L294.02 688.94 L294.69 689.73 L295.36 690.51 L296.03 691.29 L296.71 692.07 L297.38 692.84 L298.05 693.60 L298.72 694.36 L299.39 695.12 L300.06 695.87 L300.74 696.61 L301.41 697.35 L302.08 698.09 L302.75 698.82 L303.42 699.55 L304.09 700.27 L304.77 700.99 L305.44 701.70 L306.11 702.41 L306.78 703.12 L307.45 703.82 L308.12 704.52 L308.79 705.21 L309.47 705.90 L310.14 706.58 L310.81 707.26 L311.48 707.94 L312.15 708.61 L312.82 709.28 L313.50 709.94 L314.17 710.61 L314.84 711.26 L315.51 711.92 L316.18 712.56 L316.85 713.21 L317.53 713.85 L318.20 714.49 L318.87 715.12 L319.54 715.75 L320.21 716.38 L320.88 717.00 L321.56 717.62 L322.23 718.24 L322.90 718.85 L323.57 719.46 L324.24 720.07 L324.91 720.67 L325.59 721.27 L326.26 721.87 L326.93 722.46 L327.60 723.05 L328.27 723.64 L328.94 724.22 L329.62 724.80 L330.29 725.37 L330.96 725.95 L331.63 726.52 L332.30 727.09 L332.97 727.65 L333.64 728.21 L334.32 728.77 L334.99 729.32 L335.66 729.88 L336.33 730.42 L337.00 730.97 L337.67 731.51 L338.35 732.05 L339.02 732.59 L339.69 733.13 L340.36 733.66 L341.03 734.19 L341.70 734.71 L342.38 735.24 L343.05 735.76 L343.72 736.28 L344.39 736.79 L345.06 737.31 L345.73 737.82 L346.41 738.32 L347.08 738.83 L347.75 739.33 L348.42 739.83 L349.09 740.33 L349.76 740.83 L350.44 741.32 L351.11 741.81 L351.78 742.30 L352.45 742.78 L353.12 743.26 L353.79 743.75 L354.46 744.22 L355.14 744.70 L355.81 745.17 L356.48 745.64 L357.15 746.11 L357.82 746.58 L358.49 747.04 L359.17 747.51 L359.84 747.97 L360.51 748.42 L361.18 748.88 L361.85 749.33 L362.52 749.78 L363.20 750.23 L363.87 750.68 L364.54 751.13 L365.21 751.57 L365.88 752.01 L366.55 752.45 L367.23 752.88 L367.90 753.32 L368.57 753.75 L369.24 754.18 L369.91 754.61 L370.58 755.04 L371.26 755.46 L371.93 755.88 L372.60 756.31 L373.27 756.72 L373.94 757.14 L374.61 757.56 L375.29 757.97 L375.96 758.38 L376.63 758.79 L377.30 759.20 L377.97 759.61 L378.64 760.01 L379.31 760.41 L379.99 760.81 L380.66 761.21 L381.33 761.61 L382.00 762.00 L382.67 762.40 L383.34 762.79 L384.02 763.18 L384.69 763.57 L385.36 763.96 L386.03 764.34 L386.70 764.73 L387.37 765.11 L388.05 765.49 L388.72 765.87 L389.39 766.24 L390.06 766.62 L390.73 766.99 L391.40 767.37 L392.08 767.74 L392.75 768.11 L393.42 768.48 L394.09 768.84 L394.76 769.21 L395.43 769.57 L396.11 769.93 L396.78 770.29 L397.45 770.65 L398.12 771.01 L398.79 771.37 L399.46 771.72 L400.13 772.07 L400.81 772.43 L401.48 772.78 L402.15 773.13 L402.82 773.47 L403.49 773.82 L404.16 774.17 L404.84 774.51 L405.51 774.85 L406.18 775.19 L406.85 775.53 L407.52 775.87 L408.19 776.21 L408.87 776.54 L409.54 776.88 L410.21 777.21 L410.88 777.54 L411.55 777.87 L412.22 778.20 L412.90 778.53 L413.57 778.86 L414.24 779.18 L414.91 779.51 L415.58 779.83 L416.25 780.15 L416.93 780.47 L417.60 780.79 L418.27 781.11 L418.94 781.43 L419.61 781.75 L420.28 782.06 L420.96 782.38 L421.63 782.69 L422.30 783.00 L422.97 783.31 L423.64 783.62 L424.31 783.93 L424.98 784.24 L425.66 784.54 L426.33 784.85 L427.00 785.15 L427.67 785.45 L428.34 785.76 L429.01 786.06 L429.69 786.36 L430.36 786.65 L431.03 786.95 L431.70 787.25 L432.37 787.54 L433.04 787.84 L433.72 788.13 L434.39 788.42 L435.06 788.72 L435.73 789.01 L436.40 789.30 L437.07 789.59 L437.75 789.87 L438.42 790.16 L439.09 790.45 L439.76 790.73 L440.43 791.01 L441.10 791.30 L441.78 791.58 L442.45 791.86 L443.12 792.14 L443.79 792.42 L444.46 792.70 L445.13 792.97 L445.80 793.25 L446.48 793.53 L447.15 793.80 L447.82 794.08 L448.49 794.35 L449.16 794.62 L449.83 794.89 L450.51 795.16 L451.18 795.43 L451.85 795.70 L452.52 795.97 L453.19 796.24 L453.86 796.50 L454.54 796.77 L455.21 797.03 L455.88 797.29 L456.55 797.56 L457.22 797.82 L457.89 798.08 L458.57 798.34 L459.24 798.60 L459.91 798.86 L460.58 799.12 L461.25 799.38 L461.92 799.63 L462.60 799.89 L463.27 800.14 L463.94 800.40 L464.61 800.65 L465.28 800.90 L465.95 801.16 L466.63 801.41 L467.30 801.66 L467.97 801.91 L468.64 802.16 L469.31 802.41 L469.98 802.65 L470.65 802.90 L471.33 803.15 L472.00 803.39 L472.67 803.64 L473.34 803.88 L474.01 804.12 L474.68 804.37 L475.36 804.61 L476.03 804.85 L476.70 805.09 L477.37 805.33 L478.04 805.57 L478.71 805.81 L479.39 806.05 L480.06 806.29 L480.73 806.52 L481.40 806.76 L482.07 806.99 L482.74 807.23 L483.42 807.46 L484.09 807.70 L484.76 807.93 L485.43 808.16 L486.10 808.39 L486.77 808.63 L487.45 808.86 L488.12 809.09 L488.79 809.32 L489.46 809.54 L490.13 809.77 L490.80 810.00 L491.48 810.23" stroke-dasharray="3.65 5.9" stroke-dashoffset="8.43"/>
<path stroke="#81D4FA" d="M124.06 488.13 L124.68 493.53 L125.29 498.92 L125.91 504.32 L126.52 509.76 L127.13 515.46 L127.75 521.15 L128.36 526.44 L128.97 531.00 L129.59 535.09 L130.20 538.90 L130.81 542.48 L131.43 545.86 L132.04 549.08 L132.65 552.17 L133.27 555.17 L133.88 558.10 L134.49 561.00 L135.11 563.88 L135.72 566.77 L136.33 569.71 L136.95 572.68 L137.56 575.63 L138.17 578.55 L138.79 581.44 L139.40 584.30 L140.01 587.12 L140.63 589.92 L141.24 592.68 L141.85 595.40 L142.47 598.09 L143.08 600.75 L143.69 603.37 L144.31 605.95 L144.92 608.50 L145.53 611.01 L146.15 613.49 L146.76 615.92 L147.37 618.32 L147.99 620.67 L148.60 623.00 L149.21 625.29 L149.83 627.55 L150.44 629.78 L151.05 631.98 L151.67 634.13 L152.28 636.25 L152.89 638.33 L153.51 640.39 L154.12 642.44 L154.73 644.48 L155.35 646.52 L155.96 648.57 L156.57 650.63 L157.19 652.71 L157.80 654.88 L158.41 657.17 L159.03 659.49 L159.64 661.74 L160.25 663.83 L160.87 665.65 L161.48 667.19 L162.09 668.56 L162.71 669.82 L163.32 670.98 L163.93 672.09 L164.55 673.17 L165.16 674.26 L165.77 675.39 L166.39 676.57 L167.00 677.83 L167.61 679.13 L168.23 680.45 L168.84 681.80 L169.45 683.16 L170.07 684.53 L170.68 685.91 L171.29 687.29 L171.91 688.66 L172.52 690.02 L173.13 691.36 L173.75 692.69 L174.36 693.99 L174.97 695.26 L175.59 696.49 L176.20 697.70 L176.82 698.86 L177.43 699.98 L178.04 701.10 L178.66 702.20 L179.27 703.29 L179.88 704.37 L180.50 705.43 L181.11 706.48 L181.72 707.52 L182.34 708.54 L182.95 709.54 L183.56 710.53 L184.18 711.51 L184.79 712.46 L185.40 713.40 L186.02 714.33 L186.63 715.23 L187.24 716.12 L187.86 716.98 L188.47 717.83 L189.08 718.66 L189.70 719.47 L190.31 720.26 L190.92 721.03 L191.54 721.77 L192.15 722.50 L192.76 723.20 L193.38 723.88 L193.99 724.54 L194.60 725.19 L195.22 725.83 L195.83 726.45 L196.44 727.07 L197.06 727.67 L197.67 728.28 L198.28 728.87 L198.90 729.47 L199.51 730.06 L200.12 730.66 L200.74 731.26 L201.35 731.86 L201.96 732.46 L202.58 733.07 L203.19 733.68 L203.80 734.29 L204.42 734.89 L205.03 735.49 L205.64 736.09 L206.26 736.69 L206.87 737.28 L207.48 737.88 L208.10 738.47 L208.71 739.06 L209.32 739.64 L209.94 740.23 L210.55 740.81 L211.16 741.39 L211.78 741.97 L212.39 742.54 L213.00 743.12 L213.62 743.69 L214.23 744.26 L214.84 744.82 L215.46 745.38 L216.07 745.95 L216.68 746.50 L217.30 747.06 L217.91 747.61 L218.52 748.17 L219.14 748.71 L219.75 749.26 L220.36 749.80 L220.98 750.34 L221.59 750.88 L222.20 751.42 L222.82 751.95 L223.43 752.48 L224.04 753.01 L224.66 753.54 L225.27 754.06 L225.88 754.58 L226.50 755.10 L227.11 755.61 L227.72 756.12 L228.34 756.63 L228.95 757.14 L229.57 757.64 L230.18 758.14 L230.79 758.64 L231.41 759.14 L232.02 759.63 L232.63 760.12 L233.25 760.61 L233.86 761.10 L234.47 761.58 L235.09 762.06 L235.70 762.53 L236.31 763.01 L236.93 763.48 L237.54 763.95 L238.15 764.41 L238.77 764.88 L239.38 765.34 L239.99 765.80 L240.61 766.25 L241.22 766.70 L241.83 767.15 L242.45 767.60 L243.06 768.04 L243.67 768.48 L244.29 768.93 L244.90 769.36 L245.51 769.80 L246.13 770.24 L246.74 770.67 L247.35 771.11 L247.97 771.54 L248.58 771.97 L249.19 772.40 L249.81 772.83 L250.42 773.25 L251.03 773.67 L251.65 774.10 L252.26 774.52 L252.87 774.94 L253.49 775.35 L254.10 775.77 L254.71 776.18 L255.33 776.59 L255.94 777.00 L256.55 777.41 L257.17 777.81 L257.78 778.22 L258.39 778.62 L259.01 779.02 L259.62 779.42 L260.23 779.81 L260.85 780.21 L261.46 780.60 L262.07 780.99 L262.69 781.38 L263.30 781.76 L263.91 782.15 L264.53 782.53 L265.14 782.91 L265.75 783.29 L266.37 783.66 L266.98 784.03 L267.59 784.40 L268.21 784.77 L268.82 785.14 L269.43 785.50 L270.05 785.87 L270.66 786.23 L271.27 786.59 L271.89 786.94 L272.50 787.29 L273.11 787.65 L273.73 787.99 L274.34 788.34 L274.95 788.69 L275.57 789.03 L276.18 789.37 L276.79 789.71 L277.41 790.04 L278.02 790.37 L278.63 790.70 L279.25 791.03 L279.86 791.36 L280.47 791.68 L281.09 792.00 L281.70 792.32 L282.32 792.64 L282.93 792.95 L283.54 793.27 L284.16 793.58 L284.77 793.88 L285.38 794.19 L286.00 794.49 L286.61 794.79 L287.22 795.09 L287.84 795.39 L288.45 795.68 L289.06 795.97 L289.68 796.26 L290.29 796.55 L290.90 796.83 L291.52 797.12 L292.13 797.40 L292.74 797.68 L293.36 797.95 L293.97 798.23 L294.58 798.50 L295.20 798.78 L295.81 799.05 L296.42 799.32 L297.04 799.58 L297.65 799.85 L298.26 800.12 L298.88 800.38 L299.49 800.64 L300.10 800.90 L300.72 801.16 L301.33 801.42 L301.94 801.67 L302.56 801.93 L303.17 802.18 L303.78 802.44 L304.40 802.69 L305.01 802.94 L305.62 803.19 L306.24 803.44 L306.85 803.69 L307.46 803.93 L308.08 804.18 L308.69 804.42 L309.30 804.67 L309.92 804.91 L310.53 805.16 L311.14 805.40 L311.76 805.64 L312.37 805.88 L312.98 806.12 L313.60 806.36 L314.21 806.60 L314.82 806.84 L315.44 807.07 L316.05 807.31 L316.66 807.55 L317.28 807.78 L317.89 808.02 L318.50 808.25 L319.12 808.49 L319.73 808.72 L320.34 808.96 L320.96 809.19 L321.57 809.42 L322.18 809.66 L322.80 809.89 L323.41 810.12 L324.02 810.35 L324.64 810.58 L325.25 810.82 L325.86 811.05 L326.48 811.28 L327.09 811.51 L327.70 811.74 L328.32 811.97 L328.93 812.20 L329.54 812.43 L330.16 812.66 L330.77 812.89 L331.38 813.12 L332.00 813.35 L332.61 813.58 L333.22 813.81 L333.84 814.04 L334.45 814.26 L335.07 814.49 L335.68 814.72 L336.29 814.94 L336.91 815.17 L337.52 815.39 L338.13 815.62 L338.75 815.84 L339.36 816.06 L339.97 816.29 L340.59 816.51 L341.20 816.73 L341.81 816.95 L342.43 817.17 L343.04 817.39 L343.65 817.61 L344.27 817.83 L344.88 818.04 L345.49 818.26 L346.11 818.48 L346.72 818.69 L347.33 818.91 L347.95 819.12 L348.56 819.33 L349.17 819.54 L349.79 819.76 L350.40 819.97 L351.01 820.18 L351.63 820.38 L352.24 820.59 L352.85 820.80 L353.47 821.01 L354.08 821.21 L354.69 821.42 L355.31 821.62 L355.92 821.82 L356.53 822.02 L357.15 822.22 L357.76 822.42 L358.37 822.62 L358.99 822.82 L359.60 823.02 L360.21 823.21 L360.83 823.41 L361.44 823.60 L362.05 823.79 L362.67 823.99 L363.28 824.18 L363.89 824.37 L364.51 824.55 L365.12 824.74 L365.73 824.93 L366.35 825.11 L366.96 825.30 L367.57 825.48 L368.19 825.66 L368.80 825.85 L369.41 826.03 L370.03 826.20 L370.64 826.38 L371.25 826.56 L371.87 826.74 L372.48 826.91 L373.09 827.09 L373.71 827.26 L374.32 827.44 L374.93 827.61 L375.55 827.78 L376.16 827.95 L376.77 828.12 L377.39 828.29 L378.00 828.46 L378.61 828.63 L379.23 828.79 L379.84 828.96 L380.45 829.13 L381.07 829.29 L381.68 829.46 L382.29 829.62 L382.91 829.78 L383.52 829.95 L384.13 830.11 L384.75 830.27 L385.36 830.43 L385.97 830.59 L386.59 830.75 L387.20 830.91 L387.82 831.07 L388.43 831.23 L389.04 831.38 L389.66 831.54 L390.27 831.70 L390.88 831.85 L391.50 832.01 L392.11 832.17 L392.72 832.32 L393.34 832.47 L393.95 832.63 L394.56 832.78 L395.18 832.94 L395.79 833.09 L396.40 833.24 L397.02 833.39 L397.63 833.55 L398.24 833.70 L398.86 833.85 L399.47 834.00 L400.08 834.15 L400.70 834.30 L401.31 834.45 L401.92 834.60 L402.54 834.75 L403.15 834.90 L403.76 835.05 L404.38 835.20 L404.99 835.34 L405.60 835.49 L406.22 835.64 L406.83 835.79 L407.44 835.94 L408.06 836.08 L408.67 836.23 L409.28 836.38 L409.90 836.52 L410.51 836.67 L411.12 836.82 L411.74 836.96 L412.35 837.11 L412.96 837.25 L413.58 837.40 L414.19 837.55 L414.80 837.69 L415.42 837.83 L416.03 837.98 L416.64 838.12 L417.26 838.27 L417.87 838.41 L418.48 838.55 L419.10 838.69 L419.71 838.84 L420.32 838.98 L420.94 839.12 L421.55 839.26 L422.16 839.40 L422.78 839.54 L423.39 839.68 L424.00 839.82 L424.62 839.96 L425.23 840.10 L425.84 840.24 L426.46 840.38 L427.07 840.52 L427.68 840.66 L428.30 840.79 L428.91 840.93 L429.52 841.07 L430.14 841.20 L430.75 841.34 L431.36 841.48 L431.98 841.61 L432.59 841.75 L433.20 841.88 L433.82 842.01 L434.43 842.15 L435.04 842.28 L435.66 842.41 L436.27 842.55 L436.88 842.68 L437.50 842.81 L438.11 842.94 L438.72 843.07 L439.34 843.20 L439.95 843.33 L440.57 843.46 L441.18 843.59 L441.79 843.72 L442.41 843.85 L443.02 843.98 L443.63 844.10 L444.25 844.23 L444.86 844.36 L445.47 844.48 L446.09 844.61 L446.70 844.73 L447.31 844.86 L447.93 844.98 L448.54 845.11 L449.15 845.23 L449.77 845.35 L450.38 845.48 L450.99 845.60 L451.61 845.72 L452.22 845.84 L452.83 845.96 L453.45 846.08 L454.06 846.20 L454.67 846.32 L455.29 846.44 L455.90 846.56 L456.51 846.68 L457.13 846.80 L457.74 846.92 L458.35 847.03 L458.97 847.15 L459.58 847.27 L460.19 847.39 L460.81 847.50 L461.42 847.62 L462.03 847.73 L462.65 847.85 L463.26 847.96 L463.87 848.08 L464.49 848.19 L465.10 848.31 L465.71 848.42 L466.33 848.53 L466.94 848.65 L467.55 848.76 L468.17 848.87 L468.78 848.99 L469.39 849.10 L470.01 849.21 L470.62 849.32 L471.23 849.43 L471.85 849.54 L472.46 849.65 L473.07 849.76 L473.69 849.87 L474.30 849.98 L474.91 850.09 L475.53 850.20 L476.14 850.31 L476.75 850.41 L477.37 850.52 L477.98 850.63 L478.59 850.74 L479.21 850.84 L479.82 850.95 L480.43 851.05 L481.05 851.16 L481.66 851.27 L482.27 851.37 L482.89 851.48 L483.50 851.58 L484.11 851.68 L484.73 851.79 L485.34 851.89 L485.95 852.00 L486.57 852.10 L487.18 852.20 L487.79 852.30 L488.41 852.41 L489.02 852.51 L489.63 852.61 L490.25 852.71 L490.86 852.81 L491.48 852.91"/>
<path stroke="#81D4FA" d="M124.06 488.13 L124.68 493.53 L125.29 498.92 L125.91 504.32 L126.52 509.76 L127.13 515.46 L127.75 521.15 L128.36 526.44 L128.97 531.00 L129.59 535.09 L130.20 538.90 L130.81 542.48 L131.43 545.86 L132.04 549.08 L132.65 552.17 L133.27 555.17 L133.88 558.10 L134.49 561.00 L135.11 563.88 L135.72 566.77 L136.33 569.71 L136.95 572.68 L137.56 575.63 L138.17 578.55 L138.79 581.44 L139.40 584.30 L140.01 587.12 L140.63 589.92 L141.24 592.68 L141.85 595.40 L142.47 598.09 L143.08 600.75 L143.69 603.37 L144.31 605.95 L144.92 608.50 L145.53 611.01 L146.15 613.49 L146.76 615.92 L147.37 618.32 L147.99 620.67 L148.60 623.00 L149.21 625.29 L149.83 627.55 L150.44 629.78 L151.05 631.98 L151.67 634.13 L152.28 636.25 L152.89 638.33 L153.51 640.39 L154.12 642.44 L154.73 644.48 L155.35 646.52 L155.96 648.57 L156.57 650.63 L157.19 652.71 L157.80 654.88 L158.41 657.17 L159.03 659.49 L159.64 661.74 L160.25 663.83 L160.87 665.65 L161.48 667.19 L162.09 668.56 L162.71 669.82 L163.32 670.98 L163.93 672.09 L164.55 673.17 L165.16 674.26 L165.77 675.39 L166.39 676.57 L167.00 677.83 L167.61 679.13 L168.23 680.45 L168.84 681.80 L169.45 683.16 L170.07 684.53 L170.68 685.91 L171.29 687.29 L171.91 688.66 L172.52 690.02 L173.13 691.36 L173.75 692.69 L174.36 693.99 L174.97 695.26 L175.59 696.49 L176.20 697.70 L176.82 698.86 L177.43 699.98 L178.04 701.10 L178.66 702.20 L179.27 703.29 L179.88 704.37 L180.50 705.43 L181.11 706.49 L181.72 707.52 L182.34 708.55 L182.95 709.55 L183.56 710.54 L184.18 711.52 L184.79 712.48 L185.40 713.42 L186.02 714.34 L186.63 715.24 L187.24 716.13 L187.86 716.99 L188.47 717.84 L189.08 718.67 L189.70 719.48 L190.31 720.26 L190.92 721.03 L191.54 721.77 L192.15 722.49 L192.76 723.18 L193.38 723.86 L193.99 724.51 L194.60 725.15 L195.22 725.78 L195.83 726.40 L196.44 727.00 L197.06 727.60 L197.67 728.19 L198.28 728.78 L198.90 729.36 L199.51 729.95 L200.12 730.53 L200.74 731.12 L201.35 731.71 L201.96 732.30 L202.58 732.90 L203.19 733.50 L203.80 734.09 L204.42 734.69 L205.03 735.28 L205.64 735.87 L206.26 736.45 L206.87 737.04 L207.48 737.62 L208.10 738.21 L208.71 738.78 L209.32 739.36 L209.94 739.94 L210.55 740.51 L211.16 741.08 L211.78 741.65 L212.39 742.22 L213.00 742.78 L213.62 743.34 L214.23 743.91 L214.84 744.46 L215.46 745.02 L216.07 745.57 L216.68 746.12 L217.30 746.67 L217.91 747.22 L218.52 747.77 L219.14 748.31 L219.75 748.85 L220.36 749.38 L220.98 749.92 L221.59 750.45 L222.20 750.98 L222.82 751.51 L223.43 752.03 L224.04 752.55 L224.66 753.07 L225.27 753.59 L225.88 754.10 L226.50 754.61 L227.11 755.12 L227.72 755.63 L228.34 756.13 L228.95 756.63 L229.57 757.13 L230.18 757.62 L230.79 758.11 L231.41 758.60 L232.02 759.09 L232.63 759.57 L233.25 760.05 L233.86 760.53 L234.47 761.00 L235.09 761.47 L235.70 761.94 L236.31 762.41 L236.93 762.87 L237.54 763.33 L238.15 763.79 L238.77 764.24 L239.38 764.69 L239.99 765.14 L240.61 765.59 L241.22 766.03 L241.83 766.47 L242.45 766.91 L243.06 767.34 L243.67 767.77 L244.29 768.21 L244.90 768.64 L245.51 769.07 L246.13 769.50 L246.74 769.93 L247.35 770.35 L247.97 770.78 L248.58 771.21 L249.19 771.63 L249.81 772.05 L250.42 772.47 L251.03 772.89 L251.65 773.31 L252.26 773.73 L252.87 774.15 L253.49 774.56 L254.10 774.97 L254.71 775.38 L255.33 775.79 L255.94 776.20 L256.55 776.60 L257.17 777.00 L257.78 777.40 L258.39 777.80 L259.01 778.20 L259.62 778.59 L260.23 778.98 L260.85 779.37 L261.46 779.76 L262.07 780.15 L262.69 780.53 L263.30 780.91 L263.91 781.28 L264.53 781.66 L265.14 782.03 L265.75 782.40 L266.37 782.77 L266.98 783.13 L267.59 783.50 L268.21 783.85 L268.82 784.21 L269.43 784.56 L270.05 784.92 L270.66 785.26 L271.27 785.61 L271.89 785.95 L272.50 786.29 L273.11 786.63 L273.73 786.96 L274.34 787.29 L274.95 787.62 L275.57 787.94 L276.18 788.26 L276.79 788.58 L277.41 788.89 L278.02 789.21 L278.63 789.51 L279.25 789.82 L279.86 790.12 L280.47 790.42 L281.09 790.72 L281.70 791.01 L282.32 791.30 L282.93 791.58 L283.54 791.87 L284.16 792.14 L284.77 792.42 L285.38 792.69 L286.00 792.96 L286.61 793.23 L287.22 793.50 L287.84 793.76 L288.45 794.02 L289.06 794.28 L289.68 794.54 L290.29 794.79 L290.90 795.04 L291.52 795.29 L292.13 795.54 L292.74 795.79 L293.36 796.03 L293.97 796.27 L294.58 796.51 L295.20 796.74 L295.81 796.97 L296.42 797.21 L297.04 797.43 L297.65 797.66 L298.26 797.88 L298.88 798.11 L299.49 798.33 L300.10 798.54 L300.72 798.76 L301.33 798.97 L301.94 799.18 L302.56 799.39 L303.17 799.60 L303.78 799.80 L304.40 800.00 L305.01 800.20 L305.62 800.40 L306.24 800.60 L306.85 800.79 L307.46 800.98 L308.08 801.17 L308.69 801.36 L309.30 801.54 L309.92 801.73 L310.53 801.91 L311.14 802.09 L311.76 802.26 L312.37 802.44 L312.98 802.61 L313.60 802.78 L314.21 802.95 L314.82 803.12 L315.44 803.29 L316.05 803.45 L316.66 803.62 L317.28 803.78 L317.89 803.94 L318.50 804.10 L319.12 804.26 L319.73 804.41 L320.34 804.57 L320.96 804.72 L321.57 804.88 L322.18 805.03 L322.80 805.18 L323.41 805.33 L324.02 805.48 L324.64 805.63 L325.25 805.77 L325.86 805.92 L326.48 806.07 L327.09 806.21 L327.70 806.35 L328.32 806.50 L328.93 806.64 L329.54 806.78 L330.16 806.92 L330.77 807.06 L331.38 807.20 L332.00 807.34 L332.61 807.48 L333.22 807.61 L333.84 807.75 L334.45 807.89 L335.07 808.02 L335.68 808.16 L336.29 808.30 L336.91 808.43 L337.52 808.57 L338.13 808.70 L338.75 808.83 L339.36 808.97 L339.97 809.10 L340.59 809.24 L341.20 809.37 L341.81 809.50 L342.43 809.64 L343.04 809.77 L343.65 809.90 L344.27 810.04 L344.88 810.17 L345.49 810.30 L346.11 810.44 L346.72 810.57 L347.33 810.70 L347.95 810.84 L348.56 810.97 L349.17 811.10 L349.79 811.24 L350.40 811.37 L351.01 811.50 L351.63 811.63 L352.24 811.77 L352.85 811.90 L353.47 812.03 L354.08 812.16 L354.69 812.29 L355.31 812.42 L355.92 812.55 L356.53 812.68 L357.15 812.81 L357.76 812.94 L358.37 813.07 L358.99 813.20 L359.60 813.32 L360.21 813.45 L360.83 813.58 L361.44 813.70 L362.05 813.83 L362.67 813.96 L363.28 814.08 L363.89 814.21 L364.51 814.33 L365.12 814.46 L365.73 814.58 L366.35 814.71 L366.96 814.83 L367.57 814.95 L368.19 815.07 L368.80 815.20 L369.41 815.32 L370.03 815.44 L370.64 815.56 L371.25 815.68 L371.87 815.80 L372.48 815.92 L373.09 816.04 L373.71 816.16 L374.32 816.28 L374.93 816.40 L375.55 816.51 L376.16 816.63 L376.77 816.75 L377.39 816.86 L378.00 816.98 L378.61 817.09 L379.23 817.21 L379.84 817.32 L380.45 817.44 L381.07 817.55 L381.68 817.67 L382.29 817.78 L382.91 817.89 L383.52 818.00 L384.13 818.12 L384.75 818.23 L385.36 818.34 L385.97 818.45 L386.59 818.56 L387.20 818.67 L387.82 818.78 L388.43 818.89 L389.04 819.00 L389.66 819.11 L390.27 819.21 L390.88 819.32 L391.50 819.43 L392.11 819.54 L392.72 819.64 L393.34 819.75 L393.95 819.86 L394.56 819.96 L395.18 820.07 L395.79 820.17 L396.40 820.27 L397.02 820.38 L397.63 820.48 L398.24 820.58 L398.86 820.69 L399.47 820.79 L400.08 820.89 L400.70 820.99 L401.31 821.09 L401.92 821.19 L402.54 821.29 L403.15 821.38 L403.76 821.48 L404.38 821.58 L404.99 821.67 L405.60 821.77 L406.22 821.86 L406.83 821.96 L407.44 822.05 L408.06 822.15 L408.67 822.24 L409.28 822.33 L409.90 822.43 L410.51 822.52 L411.12 822.61 L411.74 822.71 L412.35 822.80 L412.96 822.89 L413.58 822.98 L414.19 823.07 L414.80 823.16 L415.42 823.25 L416.03 823.34 L416.64 823.43 L417.26 823.52 L417.87 823.61 L418.48 823.70 L419.10 823.79 L419.71 823.87 L420.32 823.96 L420.94 824.05 L421.55 824.14 L422.16 824.22 L422.78 824.31 L423.39 824.40 L424.00 824.48 L424.62 824.57 L425.23 824.65 L425.84 824.74 L426.46 824.82 L427.07 824.91 L427.68 824.99 L428.30 825.07 L428.91 825.16 L429.52 825.24 L430.14 825.32 L430.75 825.40 L431.36 825.48 L431.98 825.57 L432.59 825.65 L433.20 825.73 L433.82 825.81 L434.43 825.89 L435.04 825.97 L435.66 826.05 L436.27 826.13 L436.88 826.20 L437.50 826.28 L438.11 826.36 L438.72 826.44 L439.34 826.51 L439.95 826.59 L440.57 826.67 L441.18 826.74 L441.79 826.82 L442.41 826.90 L443.02 826.97 L443.63 827.05 L444.25 827.12 L444.86 827.19 L445.47 827.27 L446.09 827.34 L446.70 827.41 L447.31 827.49 L447.93 827.56 L448.54 827.63 L449.15 827.70 L449.77 827.77 L450.38 827.84 L450.99 827.91 L451.61 827.98 L452.22 828.05 L452.83 828.12 L453.45 828.19 L454.06 828.26 L454.67 828.33 L455.29 828.40 L455.90 828.47 L456.51 828.54 L457.13 828.60 L457.74 828.67 L458.35 828.74 L458.97 828.81 L459.58 828.87 L460.19 828.94 L460.81 829.00 L461.42 829.07 L462.03 829.14 L462.65 829.20 L463.26 829.27 L463.87 829.33 L464.49 829.40 L465.10 829.46 L465.71 829.52 L466.33 829.59 L466.94 829.65 L467.55 829.71 L468.17 829.78 L468.78 829.84 L469.39 829.90 L470.01 829.96 L470.62 830.03 L471.23 830.09 L471.85 830.15 L472.46 830.21 L473.07 830.27 L473.69 830.33 L474.30 830.39 L474.91 830.45 L475.53 830.51 L476.14 830.57 L476.75 830.63 L477.37 830.69 L477.98 830.75 L478.59 830.80 L479.21 830.86 L479.82 830.92 L480.43 830.98 L481.05 831.04 L481.66 831.09 L482.27 831.15 L482.89 831.21 L483.50 831.26 L484.11 831.32 L484.73 831.38 L485.34 831.43 L485.95 831.49 L486.57 831.54 L487.18 831.60 L487.79 831.65 L488.41 831.71 L489.02 831.76 L489.63 831.82 L490.25 831.87 L490.86 831.92 L491.48 831.98" stroke-dasharray="13.5 5.9" stroke-dashoffset="5.75"/>
<path stroke="#81D4FA" d="M212.64 478.61 L213.30 480.78 L213.96 482.94 L214.62 485.08 L215.28 487.20 L215.94 489.31 L216.60 491.40 L217.26 493.47 L217.91 495.53 L218.57 497.57 L219.23 499.59 L219.89 501.60 L220.55 503.59 L221.21 505.57 L221.87 507.52 L222.53 509.47 L223.19 511.40 L223.85 513.31 L224.51 515.21 L225.17 517.09 L225.83 518.96 L226.48 520.81 L227.14 522.65 L227.80 524.47 L228.46 526.28 L229.12 528.07 L229.78 529.85 L230.44 531.62 L231.10 533.37 L231.76 535.10 L232.42 536.83 L233.08 538.54 L233.74 540.23 L234.39 541.92 L235.05 543.59 L235.71 545.24 L236.37 546.89 L237.03 548.52 L237.69 550.14 L238.35 551.74 L239.01 553.33 L239.67 554.92 L240.33 556.48 L240.99 558.04 L241.65 559.58 L242.30 561.11 L242.96 562.63 L243.62 564.14 L244.28 565.64 L244.94 567.12 L245.60 568.60 L246.26 570.06 L246.92 571.51 L247.58 572.95 L248.24 574.38 L248.90 575.80 L249.56 577.20 L250.21 578.60 L250.87 579.99 L251.53 581.36 L252.19 582.73 L252.85 584.08 L253.51 585.42 L254.17 586.76 L254.83 588.08 L255.49 589.40 L256.15 590.70 L256.81 592.00 L257.47 593.28 L258.12 594.56 L258.78 595.82 L259.44 597.08 L260.10 598.33 L260.76 599.57 L261.42 600.80 L262.08 602.02 L262.74 603.23 L263.40 604.43 L264.06 605.62 L264.72 606.81 L265.38 607.99 L266.04 609.15 L266.69 610.31 L267.35 611.46 L268.01 612.61 L268.67 613.74 L269.33 614.87 L269.99 615.99 L270.65 617.10 L271.31 618.20 L271.97 619.30 L272.63 620.38 L273.29 621.46 L273.95 622.54 L274.60 623.60 L275.26 624.66 L275.92 625.71 L276.58 626.75 L277.24 627.79 L277.90 628.82 L278.56 629.84 L279.22 630.85 L279.88 631.86 L280.54 632.86 L281.20 633.85 L281.86 634.84 L282.51 635.82 L283.17 636.79 L283.83 637.76 L284.49 638.72 L285.15 639.67 L285.81 640.62 L286.47 641.56 L287.13 642.50 L287.79 643.43 L288.45 644.35 L289.11 645.27 L289.77 646.18 L290.42 647.08 L291.08 647.98 L291.74 648.87 L292.40 649.76 L293.06 650.64 L293.72 651.52 L294.38 652.39 L295.04 653.25 L295.70 654.11 L296.36 654.96 L297.02 655.81 L297.68 656.65 L298.34 657.49 L298.99 658.32 L299.65 659.15 L300.31 659.97 L300.97 660.78 L301.63 661.60 L302.29 662.40 L302.95 663.20 L303.61 664.00 L304.27 664.79 L304.93 665.58 L305.59 666.36 L306.25 667.13 L306.90 667.91 L307.56 668.67 L308.22 669.44 L308.88 670.19 L309.54 670.95 L310.20 671.70 L310.86 672.44 L311.52 673.18 L312.18 673.92 L312.84 674.65 L313.50 675.37 L314.16 676.10 L314.81 676.81 L315.47 677.53 L316.13 678.24 L316.79 678.94 L317.45 679.65 L318.11 680.34 L318.77 681.04 L319.43 681.73 L320.09 682.41 L320.75 683.09 L321.41 683.77 L322.07 684.45 L322.72 685.12 L323.38 685.78 L324.04 686.44 L324.70 687.10 L325.36 687.76 L326.02 688.41 L326.68 689.06 L327.34 689.70 L328.00 690.34 L328.66 690.98 L329.32 691.62 L329.98 692.25 L330.63 692.87 L331.29 693.50 L331.95 694.12 L332.61 694.73 L333.27 695.35 L333.93 695.96 L334.59 696.56 L335.25 697.17 L335.91 697.77 L336.57 698.37 L337.23 698.96 L337.89 699.55 L338.55 700.14 L339.20 700.73 L339.86 701.31 L340.52 701.89 L341.18 702.46 L341.84 703.04 L342.50 703.61 L343.16 704.17 L343.82 704.74 L344.48 705.30 L345.14 705.86 L345.80 706.41 L346.46 706.97 L347.11 707.52 L347.77 708.07 L348.43 708.61 L349.09 709.15 L349.75 709.69 L350.41 710.23 L351.07 710.76 L351.73 711.30 L352.39 711.82 L353.05 712.35 L353.71 712.88 L354.37 713.40 L355.02 713.92 L355.68 714.43 L356.34 714.95 L357.00 715.46 L357.66 715.97 L358.32 716.48 L358.98 716.98 L359.64 717.48 L360.30 717.98 L360.96 718.48 L361.62 718.98 L362.28 719.47 L362.93 719.96 L363.59 720.45 L364.25 720.94 L364.91 721.42 L365.57 721.90 L366.23 722.38 L366.89 722.86 L367.55 723.34 L368.21 723.81 L368.87 724.28 L369.53 724.75 L370.19 725.22 L370.84 725.68 L371.50 726.15 L372.16 726.61 L372.82 727.07 L373.48 727.52 L374.14 727.98 L374.80 728.43 L375.46 728.88 L376.12 729.33 L376.78 729.78 L377.44 730.23 L378.10 730.67 L378.76 731.11 L379.41 731.56 L380.07 731.99 L380.73 732.43 L381.39 732.87 L382.05 733.30 L382.71 733.73 L383.37 734.16 L384.03 734.59 L384.69 735.02 L385.35 735.44 L386.01 735.86 L386.67 736.28 L387.32 736.70 L387.98 737.12 L388.64 737.54 L389.30 737.95 L389.96 738.37 L390.62 738.78 L391.28 739.19 L391.94 739.60 L392.60 740.00 L393.26 740.41 L393.92 740.81 L394.58 741.22 L395.23 741.62 L395.89 742.02 L396.55 742.41 L397.21 742.81 L397.87 743.21 L398.53 743.60 L399.19 743.99 L399.85 744.38 L400.51 744.77 L401.17 745.16 L401.83 745.55 L402.49 745.93 L403.14 746.31 L403.80 746.70 L404.46 747.08 L405.12 747.46 L405.78 747.84 L406.44 748.21 L407.10 748.59 L407.76 748.96 L408.42 749.34 L409.08 749.71 L409.74 750.08 L410.40 750.45 L411.05 750.82 L411.71 751.19 L412.37 751.55 L413.03 751.92 L413.69 752.28 L414.35 752.64 L415.01 753.00 L415.67 753.36 L416.33 753.72 L416.99 754.08 L417.65 754.44 L418.31 754.79 L418.97 755.14 L419.62 755.50 L420.28 755.85 L420.94 756.20 L421.60 756.55 L422.26 756.90 L422.92 757.25 L423.58 757.59 L424.24 757.94 L424.90 758.28 L425.56 758.63 L426.22 758.97 L426.88 759.31 L427.53 759.65 L428.19 759.99 L428.85 760.33 L429.51 760.66 L430.17 761.00 L430.83 761.34 L431.49 761.67 L432.15 762.00 L432.81 762.34 L433.47 762.67 L434.13 763.00 L434.79 763.33 L435.44 763.66 L436.10 763.98 L436.76 764.31 L437.42 764.64 L438.08 764.96 L438.74 765.29 L439.40 765.61 L440.06 765.93 L440.72 766.25 L441.38 766.57 L442.04 766.89 L442.70 767.21 L443.35 767.53 L444.01 767.85 L444.67 768.16 L445.33 768.48 L445.99 768.79 L446.65 769.11 L447.31 769.42 L447.97 769.73 L448.63 770.05 L449.29 770.36 L449.95 770.67 L450.61 770.98 L451.26 771.28 L451.92 771.59 L452.58 771.90 L453.24 772.20 L453.90 772.51 L454.56 772.81 L455.22 773.12 L455.88 773.42 L456.54 773.72 L457.20 774.03 L457.86 774.33 L458.52 774.63 L459.18 774.93 L459.83 775.23 L460.49 775.52 L461.15 775.82 L461.81 776.12 L462.47 776.41 L463.13 776.71 L463.79 777.00 L464.45 777.30 L465.11 777.59 L465.77 777.89 L466.43 778.18 L467.09 778.47 L467.74 778.76 L468.40 779.05 L469.06 779.34 L469.72 779.63 L470.38 779.92 L471.04 780.21 L471.70 780.49 L472.36 780.78 L473.02 781.06 L473.68 781.35 L474.34 781.63 L475.00 781.92 L475.65 782.20 L476.31 782.49 L476.97 782.77 L477.63 783.05 L478.29 783.33 L478.95 783.61 L479.61 783.89 L480.27 784.17 L480.93 784.45 L481.59 784.73 L482.25 785.01 L482.91 785.28 L483.56 785.56 L484.22 785.84 L484.88 786.11 L485.54 786.39 L486.20 786.66 L486.86 786.94 L487.52 787.21 L488.18 787.49 L488.84 787.76 L489.50 788.03 L490.16 788.30 L490.82 788.57 L491.48 788.84" stroke-dasharray="3.65 5.9" stroke-dashoffset="9.13"/>
<g fill="#FA4E08" stroke="none">
<circle cx="119.40" cy="535.80" r="8.30"/>
<circle cx="160.60" cy="666.40" r="8.30"/>
<circle cx="202.30" cy="729.50" r="8.30"/>
<circle cx="243.20" cy="765.30" r="8.30"/>
<circle cx="284.50" cy="793.75" r="8.30"/>
<circle cx="326.40" cy="813.00" r="8.30"/>
<circle cx="367.30" cy="827.80" r="8.30"/>
<circle cx="408.75" cy="839.00" r="8.30"/>
<circle cx="450.50" cy="848.50" r="8.30"/>
<circle cx="492.00" cy="856.50" r="8.30"/>
</g>
<g fill="#81D4FA" stroke="none">
<circle cx="119.30" cy="529.10" r="8.30"/>
<circle cx="160.50" cy="668.00" r="8.30"/>
<circle cx="202.00" cy="732.50" r="8.30"/>
<circle cx="243.00" cy="768.00" r="8.30"/>
<circle cx="284.50" cy="793.75" r="8.30"/>
<circle cx="326.40" cy="811.25" r="8.30"/>
<circle cx="367.30" cy="825.40" r="8.30"/>
<circle cx="408.75" cy="836.25" r="8.30"/>
<circle cx="450.50" cy="845.50" r="8.30"/>
<circle cx="492.00" cy="853.00" r="8.30"/>
</g>
</g>
<g stroke="#000" fill="none">
<path d="M119.10 917.00 v-4.7" stroke-width="1.9"/>
<path d="M160.47 917.00 v-7.7" stroke-width="2.2"/>
<path d="M201.85 917.00 v-4.7" stroke-width="1.9"/>
<path d="M243.22 917.00 v-7.7" stroke-width="2.2"/>
<path d="M284.60 917.00 v-4.7" stroke-width="1.9"/>
<path d="M325.98 917.00 v-7.7" stroke-width="2.2"/>
<path d="M367.35 917.00 v-4.7" stroke-width="1.9"/>
<path d="M408.73 917.00 v-7.7" stroke-width="2.2"/>
<path d="M450.10 917.00 v-4.7" stroke-width="1.9"/>
<path d="M491.48 917.00 v-7.7" stroke-width="2.2"/>
<path d="M100.80 878.68 h4.7" stroke-width="1.9"/>
<path d="M100.80 855.91 h4.7" stroke-width="1.9"/>
<path d="M100.80 839.75 h4.7" stroke-width="1.9"/>
<path d="M100.80 827.22 h4.7" stroke-width="1.9"/>
<path d="M100.80 816.99 h4.7" stroke-width="1.9"/>
<path d="M100.80 808.33 h4.7" stroke-width="1.9"/>
<path d="M100.80 800.83 h4.7" stroke-width="1.9"/>
<path d="M100.80 794.22 h4.7" stroke-width="1.9"/>
<path d="M100.80 788.30 h7.7" stroke-width="2.2"/>
<path d="M100.80 749.38 h4.7" stroke-width="1.9"/>
<path d="M100.80 726.61 h4.7" stroke-width="1.9"/>
<path d="M100.80 710.45 h4.7" stroke-width="1.9"/>
<path d="M100.80 697.92 h4.7" stroke-width="1.9"/>
<path d="M100.80 687.69 h4.7" stroke-width="1.9"/>
<path d="M100.80 679.03 h4.7" stroke-width="1.9"/>
<path d="M100.80 671.53 h4.7" stroke-width="1.9"/>
<path d="M100.80 664.92 h4.7" stroke-width="1.9"/>
<path d="M100.80 659.00 h7.7" stroke-width="2.2"/>
<path d="M100.80 620.08 h4.7" stroke-width="1.9"/>
<path d="M100.80 597.31 h4.7" stroke-width="1.9"/>
<path d="M100.80 581.15 h4.7" stroke-width="1.9"/>
<path d="M100.80 568.62 h4.7" stroke-width="1.9"/>
<path d="M100.80 558.39 h4.7" stroke-width="1.9"/>
<path d="M100.80 549.73 h4.7" stroke-width="1.9"/>
<path d="M100.80 542.23 h4.7" stroke-width="1.9"/>
<path d="M100.80 535.62 h4.7" stroke-width="1.9"/>
<path d="M100.80 529.70 h7.7" stroke-width="2.2"/>
<rect x="100.80" y="507.50" width="409.80" height="409.50" stroke-width="2.50"/>
</g>
<g font-size="26.4">
<text x="160.47" y="945.20" text-anchor="middle">200</text>
<text x="243.22" y="945.20" text-anchor="middle">400</text>
<text x="325.98" y="945.20" text-anchor="middle">600</text>
<text x="408.73" y="945.20" text-anchor="middle">800</text>
<text x="491.48" y="945.20" text-anchor="middle">1000</text>
<text x="80.6" y="927.10" text-anchor="end" font-size="26">10</text>
<text x="80.8" y="917.10" font-size="18.2">0</text>
<text x="80.6" y="797.80" text-anchor="end" font-size="26">10</text>
<text x="80.8" y="787.80" font-size="18.2">1</text>
<text x="80.6" y="668.50" text-anchor="end" font-size="26">10</text>
<text x="80.8" y="658.50" font-size="18.2">2</text>
<text x="80.6" y="539.20" text-anchor="end" font-size="26">10</text>
<text x="80.8" y="529.20" font-size="18.2">3</text>
<text x="305.6" y="978.30" text-anchor="middle" font-size="26.6">Temperature [K]</text>
</g>
<g transform="translate(28 790.75) rotate(-90)">
<text x="0" y="0" font-size="26">Mobility</text><text x="98.2" y="0" font-size="26">[</text>
<text x="107" y="-10.7" font-size="19">cm</text>
<text x="133" y="-18.8" font-size="13">2</text>
<rect x="105.6" y="-5.6" width="37.5" height="1.8" fill="#000"/>
<text x="113" y="11.8" font-size="19">Vs</text>
<text x="146.6" y="0" font-size="26">]</text>
</g>
<text x="501.5" y="548.5" font-size="31.6" text-anchor="end">(b) Hole</text>
<g class="dj" font-size="31"><text class="dj" transform="translate(368.60 877.50) scale(1.22 1)" text-anchor="middle" style="fill:#FA4E08;stroke:#FA4E08;stroke-width:0.7px">∥</text><text class="dj" x="382.30" y="878.20" style="fill:#FA4E08;stroke:#FA4E08;stroke-width:0.7px">c</text></g>
<g><text class="dj" font-size="31" x="134" y="745.5" style="fill:#81D4FA;stroke:none">⊥</text><text class="dj" font-size="31" x="161.5" y="745.7" style="fill:#81D4FA;stroke:none">c</text></g>
</svg></body></html>
